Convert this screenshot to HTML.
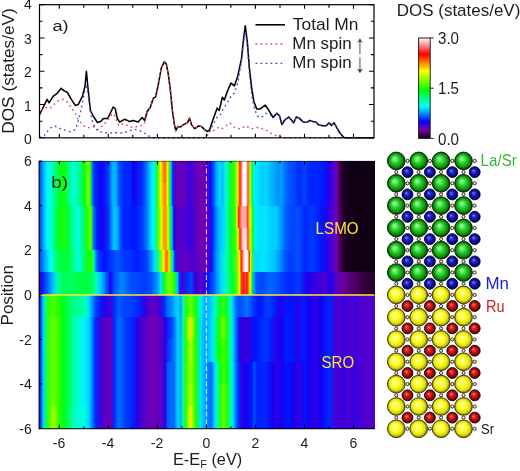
<!DOCTYPE html>
<html lang="en">
<head>
<meta charset="utf-8">
<title>DOS of LSMO/SRO interface</title>
<style>
html,body{margin:0;padding:0;background:#fff;}
body{width:520px;height:471px;overflow:hidden;font-family:"Liberation Sans", sans-serif;}
svg{display:block;}
</style>
</head>
<body>
<svg width="520" height="471" viewBox="0 0 520 471" font-family='"Liberation Sans", sans-serif' fill="#1c1c1c">
<defs>
<linearGradient id="hg0" gradientUnits="userSpaceOnUse" x1="39.0" y1="0" x2="374.5" y2="0"><stop offset="0.0015" stop-color="#0046ff"/><stop offset="0.0066" stop-color="#0072ff"/><stop offset="0.0143" stop-color="#00b9ff"/><stop offset="0.0238" stop-color="#00f5ff"/><stop offset="0.0343" stop-color="#00ffe1"/><stop offset="0.0441" stop-color="#00ff96"/><stop offset="0.0581" stop-color="#00ff3d"/><stop offset="0.0736" stop-color="#14ff00"/><stop offset="0.0891" stop-color="#00ff78"/><stop offset="0.1019" stop-color="#00ffe6"/><stop offset="0.1148" stop-color="#00ffa9"/><stop offset="0.1276" stop-color="#00ff50"/><stop offset="0.1380" stop-color="#1eff00"/><stop offset="0.1458" stop-color="#78ff00"/><stop offset="0.1535" stop-color="#1eff00"/><stop offset="0.1586" stop-color="#0077ff"/><stop offset="0.1663" stop-color="#0027ff"/><stop offset="0.1869" stop-color="#0e00f7"/><stop offset="0.2077" stop-color="#003cff"/><stop offset="0.2161" stop-color="#0096ff"/><stop offset="0.2221" stop-color="#00b9ff"/><stop offset="0.2289" stop-color="#00b4ff"/><stop offset="0.2385" stop-color="#0050ff"/><stop offset="0.2539" stop-color="#0027ff"/><stop offset="0.2712" stop-color="#0027ff"/><stop offset="0.2832" stop-color="#1500f3"/><stop offset="0.3085" stop-color="#0031ff"/><stop offset="0.3225" stop-color="#0082ff"/><stop offset="0.3308" stop-color="#00c7ff"/><stop offset="0.3398" stop-color="#00f5ff"/><stop offset="0.3481" stop-color="#00ff8d"/><stop offset="0.3547" stop-color="#3dff00"/><stop offset="0.3627" stop-color="#f0ff00"/><stop offset="0.3705" stop-color="#ff8c00"/><stop offset="0.3765" stop-color="#ff6e00"/><stop offset="0.3833" stop-color="#fff000"/><stop offset="0.3884" stop-color="#32ff00"/><stop offset="0.3934" stop-color="#00c7ff"/><stop offset="0.3988" stop-color="#0027ff"/><stop offset="0.4066" stop-color="#5d00c2"/><stop offset="0.4271" stop-color="#6900b8"/><stop offset="0.4477" stop-color="#4100da"/><stop offset="0.4680" stop-color="#5d00c2"/><stop offset="0.4838" stop-color="#7000aa"/><stop offset="0.4948" stop-color="#6400bd"/><stop offset="0.5055" stop-color="#4f00cf"/><stop offset="0.5115" stop-color="#0014ff"/><stop offset="0.5198" stop-color="#0050ff"/><stop offset="0.5288" stop-color="#00a9ff"/><stop offset="0.5395" stop-color="#00dcff"/><stop offset="0.5469" stop-color="#00beff"/><stop offset="0.5574" stop-color="#00ffdc"/><stop offset="0.5675" stop-color="#00ff50"/><stop offset="0.5803" stop-color="#28ff00"/><stop offset="0.5893" stop-color="#a9ff00"/><stop offset="0.5943" stop-color="#ffc800"/><stop offset="0.5985" stop-color="#ff1e00"/><stop offset="0.6036" stop-color="#ff7878"/><stop offset="0.6086" stop-color="#ffffff"/><stop offset="0.6176" stop-color="#ffffff"/><stop offset="0.6224" stop-color="#ff4646"/><stop offset="0.6259" stop-color="#ff9600"/><stop offset="0.6295" stop-color="#c8ff00"/><stop offset="0.6346" stop-color="#00ff28"/><stop offset="0.6408" stop-color="#00f1ff"/><stop offset="0.6528" stop-color="#00e4ff"/><stop offset="0.6656" stop-color="#00c7ff"/><stop offset="0.6757" stop-color="#00deff"/><stop offset="0.6861" stop-color="#00c3ff"/><stop offset="0.7016" stop-color="#00a9ff"/><stop offset="0.7121" stop-color="#008dff"/><stop offset="0.7222" stop-color="#00a0ff"/><stop offset="0.7326" stop-color="#0072ff"/><stop offset="0.7452" stop-color="#0055ff"/><stop offset="0.7601" stop-color="#0046ff"/><stop offset="0.7750" stop-color="#002cff"/><stop offset="0.7920" stop-color="#0041ff"/><stop offset="0.8077" stop-color="#0024ff"/><stop offset="0.8286" stop-color="#0027ff"/><stop offset="0.8495" stop-color="#0014ff"/><stop offset="0.8644" stop-color="#2700e9"/><stop offset="0.8772" stop-color="#4a00d4"/><stop offset="0.8867" stop-color="#7300af"/><stop offset="0.8951" stop-color="#4e0064"/><stop offset="0.9037" stop-color="#23002c"/><stop offset="0.9151" stop-color="#16001b"/><stop offset="0.9329" stop-color="#110015"/><stop offset="1.0000" stop-color="#110015"/></linearGradient>
<linearGradient id="hg1" gradientUnits="userSpaceOnUse" x1="39.0" y1="0" x2="374.5" y2="0"><stop offset="0.0015" stop-color="#0046ff"/><stop offset="0.0066" stop-color="#0072ff"/><stop offset="0.0143" stop-color="#00b9ff"/><stop offset="0.0238" stop-color="#00f5ff"/><stop offset="0.0343" stop-color="#00ffe1"/><stop offset="0.0441" stop-color="#00ff96"/><stop offset="0.0581" stop-color="#00ff3d"/><stop offset="0.0736" stop-color="#14ff00"/><stop offset="0.0891" stop-color="#00ff78"/><stop offset="0.1019" stop-color="#00ffe6"/><stop offset="0.1148" stop-color="#00ffa9"/><stop offset="0.1276" stop-color="#00ff50"/><stop offset="0.1380" stop-color="#1eff00"/><stop offset="0.1458" stop-color="#78ff00"/><stop offset="0.1535" stop-color="#1eff00"/><stop offset="0.1586" stop-color="#0077ff"/><stop offset="0.1663" stop-color="#0027ff"/><stop offset="0.1869" stop-color="#0e00f7"/><stop offset="0.2077" stop-color="#003cff"/><stop offset="0.2161" stop-color="#0096ff"/><stop offset="0.2221" stop-color="#00b9ff"/><stop offset="0.2289" stop-color="#00b4ff"/><stop offset="0.2385" stop-color="#0050ff"/><stop offset="0.2539" stop-color="#0027ff"/><stop offset="0.2712" stop-color="#0027ff"/><stop offset="0.2832" stop-color="#1500f3"/><stop offset="0.3085" stop-color="#0031ff"/><stop offset="0.3225" stop-color="#0082ff"/><stop offset="0.3308" stop-color="#00c7ff"/><stop offset="0.3398" stop-color="#00f5ff"/><stop offset="0.3481" stop-color="#00ff8d"/><stop offset="0.3547" stop-color="#3dff00"/><stop offset="0.3627" stop-color="#f0ff00"/><stop offset="0.3705" stop-color="#ffa500"/><stop offset="0.3765" stop-color="#ff8700"/><stop offset="0.3833" stop-color="#fff000"/><stop offset="0.3884" stop-color="#32ff00"/><stop offset="0.3934" stop-color="#00c7ff"/><stop offset="0.3988" stop-color="#0027ff"/><stop offset="0.4066" stop-color="#5d00c2"/><stop offset="0.4271" stop-color="#6900b8"/><stop offset="0.4477" stop-color="#4100da"/><stop offset="0.4680" stop-color="#5d00c2"/><stop offset="0.4838" stop-color="#7000aa"/><stop offset="0.4948" stop-color="#6400bd"/><stop offset="0.5055" stop-color="#4f00cf"/><stop offset="0.5115" stop-color="#0014ff"/><stop offset="0.5198" stop-color="#0050ff"/><stop offset="0.5288" stop-color="#00a9ff"/><stop offset="0.5395" stop-color="#00dcff"/><stop offset="0.5469" stop-color="#00beff"/><stop offset="0.5574" stop-color="#00ffdc"/><stop offset="0.5675" stop-color="#00ff50"/><stop offset="0.5803" stop-color="#28ff00"/><stop offset="0.5893" stop-color="#a9ff00"/><stop offset="0.5943" stop-color="#ffc800"/><stop offset="0.5985" stop-color="#ff1e00"/><stop offset="0.6036" stop-color="#ff7878"/><stop offset="0.6086" stop-color="#ffffff"/><stop offset="0.6176" stop-color="#ffffff"/><stop offset="0.6224" stop-color="#ff4646"/><stop offset="0.6259" stop-color="#ff9600"/><stop offset="0.6295" stop-color="#c8ff00"/><stop offset="0.6346" stop-color="#00ff28"/><stop offset="0.6408" stop-color="#00f1ff"/><stop offset="0.6528" stop-color="#00e4ff"/><stop offset="0.6656" stop-color="#00c7ff"/><stop offset="0.6757" stop-color="#00deff"/><stop offset="0.6861" stop-color="#00c3ff"/><stop offset="0.7016" stop-color="#00a9ff"/><stop offset="0.7121" stop-color="#008dff"/><stop offset="0.7222" stop-color="#00a0ff"/><stop offset="0.7326" stop-color="#0072ff"/><stop offset="0.7452" stop-color="#0055ff"/><stop offset="0.7601" stop-color="#0046ff"/><stop offset="0.7750" stop-color="#002cff"/><stop offset="0.7920" stop-color="#0041ff"/><stop offset="0.8077" stop-color="#0024ff"/><stop offset="0.8286" stop-color="#0027ff"/><stop offset="0.8495" stop-color="#0014ff"/><stop offset="0.8644" stop-color="#2700e9"/><stop offset="0.8772" stop-color="#4a00d4"/><stop offset="0.8867" stop-color="#7300af"/><stop offset="0.8951" stop-color="#4e0064"/><stop offset="0.9037" stop-color="#23002c"/><stop offset="0.9151" stop-color="#16001b"/><stop offset="0.9329" stop-color="#110015"/><stop offset="1.0000" stop-color="#110015"/></linearGradient>
<linearGradient id="hg2" gradientUnits="userSpaceOnUse" x1="39.0" y1="0" x2="374.5" y2="0"><stop offset="0.0015" stop-color="#0046ff"/><stop offset="0.0066" stop-color="#006dff"/><stop offset="0.0143" stop-color="#00b4ff"/><stop offset="0.0238" stop-color="#00f5ff"/><stop offset="0.0343" stop-color="#00ffd7"/><stop offset="0.0441" stop-color="#00ff82"/><stop offset="0.0581" stop-color="#00ff28"/><stop offset="0.0736" stop-color="#1eff00"/><stop offset="0.0894" stop-color="#00ff46"/><stop offset="0.1013" stop-color="#00ffa0"/><stop offset="0.1174" stop-color="#00ffe6"/><stop offset="0.1303" stop-color="#00ff82"/><stop offset="0.1431" stop-color="#1eff00"/><stop offset="0.1508" stop-color="#64ff00"/><stop offset="0.1571" stop-color="#1eff00"/><stop offset="0.1621" stop-color="#0077ff"/><stop offset="0.1717" stop-color="#001fff"/><stop offset="0.1869" stop-color="#1900f1"/><stop offset="0.2077" stop-color="#0031ff"/><stop offset="0.2170" stop-color="#0096ff"/><stop offset="0.2235" stop-color="#00c3ff"/><stop offset="0.2319" stop-color="#00beff"/><stop offset="0.2438" stop-color="#0046ff"/><stop offset="0.2563" stop-color="#001fff"/><stop offset="0.2623" stop-color="#0027ff"/><stop offset="0.2832" stop-color="#0014ff"/><stop offset="0.3085" stop-color="#003cff"/><stop offset="0.3225" stop-color="#0082ff"/><stop offset="0.3308" stop-color="#00c7ff"/><stop offset="0.3404" stop-color="#00f5ff"/><stop offset="0.3487" stop-color="#00ff8d"/><stop offset="0.3559" stop-color="#4fff00"/><stop offset="0.3642" stop-color="#e6ff00"/><stop offset="0.3714" stop-color="#ffaa00"/><stop offset="0.3779" stop-color="#ff8c00"/><stop offset="0.3845" stop-color="#e6ff00"/><stop offset="0.3911" stop-color="#00ff28"/><stop offset="0.3964" stop-color="#00beff"/><stop offset="0.4024" stop-color="#1e00ee"/><stop offset="0.4113" stop-color="#5d00c2"/><stop offset="0.4322" stop-color="#4e00d0"/><stop offset="0.4531" stop-color="#3600e0"/><stop offset="0.4739" stop-color="#6900b8"/><stop offset="0.4888" stop-color="#7000aa"/><stop offset="0.4978" stop-color="#6400bd"/><stop offset="0.5073" stop-color="#4f00cf"/><stop offset="0.5133" stop-color="#0014ff"/><stop offset="0.5204" stop-color="#003cff"/><stop offset="0.5288" stop-color="#008dff"/><stop offset="0.5395" stop-color="#00c7ff"/><stop offset="0.5496" stop-color="#00dcff"/><stop offset="0.5598" stop-color="#00ffa9"/><stop offset="0.5723" stop-color="#00ff28"/><stop offset="0.5857" stop-color="#46ff00"/><stop offset="0.5887" stop-color="#b4ff00"/><stop offset="0.5914" stop-color="#ffc800"/><stop offset="0.5949" stop-color="#ff1e00"/><stop offset="0.6006" stop-color="#ff6e6e"/><stop offset="0.6060" stop-color="#ffa9a9"/><stop offset="0.6170" stop-color="#ffa9a9"/><stop offset="0.6218" stop-color="#ff3232"/><stop offset="0.6253" stop-color="#ff9600"/><stop offset="0.6283" stop-color="#ffe600"/><stop offset="0.6319" stop-color="#95ff00"/><stop offset="0.6373" stop-color="#00ff3d"/><stop offset="0.6450" stop-color="#00f1ff"/><stop offset="0.6605" stop-color="#00e1ff"/><stop offset="0.6757" stop-color="#00eaff"/><stop offset="0.6915" stop-color="#00ceff"/><stop offset="0.7064" stop-color="#00d3ff"/><stop offset="0.7195" stop-color="#00a0ff"/><stop offset="0.7326" stop-color="#006aff"/><stop offset="0.7452" stop-color="#004bff"/><stop offset="0.7601" stop-color="#0041ff"/><stop offset="0.7732" stop-color="#0050ff"/><stop offset="0.7920" stop-color="#0027ff"/><stop offset="0.8137" stop-color="#0037ff"/><stop offset="0.8399" stop-color="#001aff"/><stop offset="0.8584" stop-color="#2700e9"/><stop offset="0.8733" stop-color="#4a00d4"/><stop offset="0.8867" stop-color="#7200ad"/><stop offset="0.8972" stop-color="#4b005f"/><stop offset="0.9076" stop-color="#1e0026"/><stop offset="0.9198" stop-color="#16001b"/><stop offset="0.9359" stop-color="#110015"/><stop offset="1.0000" stop-color="#110015"/></linearGradient>
<linearGradient id="hg3" gradientUnits="userSpaceOnUse" x1="39.0" y1="0" x2="374.5" y2="0"><stop offset="0.0015" stop-color="#0046ff"/><stop offset="0.0066" stop-color="#006dff"/><stop offset="0.0143" stop-color="#00b4ff"/><stop offset="0.0238" stop-color="#00f5ff"/><stop offset="0.0343" stop-color="#00ffd7"/><stop offset="0.0441" stop-color="#00ff82"/><stop offset="0.0581" stop-color="#00ff28"/><stop offset="0.0736" stop-color="#1eff00"/><stop offset="0.0894" stop-color="#00ff46"/><stop offset="0.1013" stop-color="#00ffa0"/><stop offset="0.1174" stop-color="#00ffe6"/><stop offset="0.1303" stop-color="#00ff82"/><stop offset="0.1431" stop-color="#1eff00"/><stop offset="0.1508" stop-color="#64ff00"/><stop offset="0.1571" stop-color="#1eff00"/><stop offset="0.1621" stop-color="#0077ff"/><stop offset="0.1717" stop-color="#001fff"/><stop offset="0.1869" stop-color="#1900f1"/><stop offset="0.2077" stop-color="#0031ff"/><stop offset="0.2170" stop-color="#0096ff"/><stop offset="0.2235" stop-color="#00c3ff"/><stop offset="0.2319" stop-color="#00beff"/><stop offset="0.2438" stop-color="#0046ff"/><stop offset="0.2563" stop-color="#001fff"/><stop offset="0.2623" stop-color="#0027ff"/><stop offset="0.2832" stop-color="#0014ff"/><stop offset="0.3085" stop-color="#003cff"/><stop offset="0.3225" stop-color="#0082ff"/><stop offset="0.3308" stop-color="#00c7ff"/><stop offset="0.3404" stop-color="#00f5ff"/><stop offset="0.3487" stop-color="#00ff8d"/><stop offset="0.3559" stop-color="#4fff00"/><stop offset="0.3642" stop-color="#e6ff00"/><stop offset="0.3714" stop-color="#ffaa00"/><stop offset="0.3779" stop-color="#ff8c00"/><stop offset="0.3845" stop-color="#e6ff00"/><stop offset="0.3911" stop-color="#00ff28"/><stop offset="0.3964" stop-color="#00beff"/><stop offset="0.4024" stop-color="#1e00ee"/><stop offset="0.4113" stop-color="#5d00c2"/><stop offset="0.4322" stop-color="#4e00d0"/><stop offset="0.4531" stop-color="#3600e0"/><stop offset="0.4739" stop-color="#6900b8"/><stop offset="0.4888" stop-color="#7000aa"/><stop offset="0.4978" stop-color="#6400bd"/><stop offset="0.5073" stop-color="#4f00cf"/><stop offset="0.5133" stop-color="#0014ff"/><stop offset="0.5204" stop-color="#003cff"/><stop offset="0.5288" stop-color="#008dff"/><stop offset="0.5395" stop-color="#00c7ff"/><stop offset="0.5496" stop-color="#00dcff"/><stop offset="0.5598" stop-color="#00ffa9"/><stop offset="0.5723" stop-color="#00ff28"/><stop offset="0.5857" stop-color="#46ff00"/><stop offset="0.5920" stop-color="#b4ff00"/><stop offset="0.5949" stop-color="#ffc800"/><stop offset="0.5985" stop-color="#ff1e00"/><stop offset="0.6033" stop-color="#ff6e6e"/><stop offset="0.6080" stop-color="#ffdcdc"/><stop offset="0.6179" stop-color="#ffdcdc"/><stop offset="0.6224" stop-color="#ff3232"/><stop offset="0.6259" stop-color="#ff9600"/><stop offset="0.6289" stop-color="#ffe600"/><stop offset="0.6319" stop-color="#95ff00"/><stop offset="0.6373" stop-color="#00ff3d"/><stop offset="0.6450" stop-color="#00f1ff"/><stop offset="0.6605" stop-color="#00e1ff"/><stop offset="0.6757" stop-color="#00eaff"/><stop offset="0.6915" stop-color="#00ceff"/><stop offset="0.7064" stop-color="#00d3ff"/><stop offset="0.7195" stop-color="#00a0ff"/><stop offset="0.7326" stop-color="#006aff"/><stop offset="0.7452" stop-color="#004bff"/><stop offset="0.7601" stop-color="#0041ff"/><stop offset="0.7732" stop-color="#0050ff"/><stop offset="0.7920" stop-color="#0027ff"/><stop offset="0.8137" stop-color="#0037ff"/><stop offset="0.8399" stop-color="#001aff"/><stop offset="0.8584" stop-color="#2700e9"/><stop offset="0.8733" stop-color="#4a00d4"/><stop offset="0.8867" stop-color="#7200ad"/><stop offset="0.8972" stop-color="#4b005f"/><stop offset="0.9076" stop-color="#1e0026"/><stop offset="0.9198" stop-color="#16001b"/><stop offset="0.9359" stop-color="#110015"/><stop offset="1.0000" stop-color="#110015"/></linearGradient>
<linearGradient id="hg4" gradientUnits="userSpaceOnUse" x1="39.0" y1="0" x2="374.5" y2="0"><stop offset="0.0015" stop-color="#0046ff"/><stop offset="0.0066" stop-color="#0065ff"/><stop offset="0.0167" stop-color="#00a0ff"/><stop offset="0.0268" stop-color="#00dcff"/><stop offset="0.0358" stop-color="#00fff1"/><stop offset="0.0447" stop-color="#00ffa9"/><stop offset="0.0581" stop-color="#00ff50"/><stop offset="0.0736" stop-color="#00ff32"/><stop offset="0.0891" stop-color="#00ff46"/><stop offset="0.1043" stop-color="#00ff96"/><stop offset="0.1174" stop-color="#00ffdc"/><stop offset="0.1303" stop-color="#00ff8d"/><stop offset="0.1458" stop-color="#14ff00"/><stop offset="0.1550" stop-color="#28ff00"/><stop offset="0.1639" stop-color="#00ff96"/><stop offset="0.1690" stop-color="#008dff"/><stop offset="0.1788" stop-color="#0031ff"/><stop offset="0.1967" stop-color="#0014ff"/><stop offset="0.2176" stop-color="#003cff"/><stop offset="0.2334" stop-color="#005aff"/><stop offset="0.2489" stop-color="#003cff"/><stop offset="0.2712" stop-color="#0031ff"/><stop offset="0.2930" stop-color="#001fff"/><stop offset="0.3189" stop-color="#003cff"/><stop offset="0.3338" stop-color="#008dff"/><stop offset="0.3446" stop-color="#00dcff"/><stop offset="0.3547" stop-color="#00ff96"/><stop offset="0.3642" stop-color="#78ff00"/><stop offset="0.3714" stop-color="#fff000"/><stop offset="0.3765" stop-color="#ff9600"/><stop offset="0.3815" stop-color="#ff6300"/><stop offset="0.3875" stop-color="#ffe600"/><stop offset="0.3934" stop-color="#3dff00"/><stop offset="0.3988" stop-color="#00d3ff"/><stop offset="0.4054" stop-color="#0027ff"/><stop offset="0.4143" stop-color="#5d00c2"/><stop offset="0.4373" stop-color="#5d00c2"/><stop offset="0.4581" stop-color="#4b00d2"/><stop offset="0.4787" stop-color="#6900b8"/><stop offset="0.4948" stop-color="#6400bd"/><stop offset="0.5073" stop-color="#4f00cf"/><stop offset="0.5133" stop-color="#0014ff"/><stop offset="0.5198" stop-color="#0046ff"/><stop offset="0.5288" stop-color="#0096ff"/><stop offset="0.5419" stop-color="#00d3ff"/><stop offset="0.5574" stop-color="#00ffbe"/><stop offset="0.5723" stop-color="#00ff3d"/><stop offset="0.5881" stop-color="#4fff00"/><stop offset="0.5973" stop-color="#fff000"/><stop offset="0.6027" stop-color="#ff1e00"/><stop offset="0.6089" stop-color="#ff9696"/><stop offset="0.6149" stop-color="#ffffff"/><stop offset="0.6218" stop-color="#fff1f1"/><stop offset="0.6268" stop-color="#ff1e00"/><stop offset="0.6310" stop-color="#e6ff00"/><stop offset="0.6355" stop-color="#32ff00"/><stop offset="0.6423" stop-color="#00e1ff"/><stop offset="0.6551" stop-color="#00dcff"/><stop offset="0.6706" stop-color="#00e6ff"/><stop offset="0.6861" stop-color="#00d3ff"/><stop offset="0.7016" stop-color="#00c7ff"/><stop offset="0.7171" stop-color="#0096ff"/><stop offset="0.7326" stop-color="#005aff"/><stop offset="0.7452" stop-color="#003cff"/><stop offset="0.7601" stop-color="#0041ff"/><stop offset="0.7732" stop-color="#0050ff"/><stop offset="0.7920" stop-color="#0027ff"/><stop offset="0.8137" stop-color="#0037ff"/><stop offset="0.8399" stop-color="#001aff"/><stop offset="0.8584" stop-color="#2700e9"/><stop offset="0.8733" stop-color="#4a00d4"/><stop offset="0.8867" stop-color="#7200ad"/><stop offset="0.8972" stop-color="#4b005f"/><stop offset="0.9076" stop-color="#1e0026"/><stop offset="0.9198" stop-color="#16001b"/><stop offset="0.9359" stop-color="#110015"/><stop offset="1.0000" stop-color="#110015"/></linearGradient>
<linearGradient id="hg5" gradientUnits="userSpaceOnUse" x1="39.0" y1="0" x2="374.5" y2="0"><stop offset="0.0015" stop-color="#5e0084"/><stop offset="0.0060" stop-color="#2700e9"/><stop offset="0.0119" stop-color="#0027ff"/><stop offset="0.0268" stop-color="#006dff"/><stop offset="0.0426" stop-color="#00c7ff"/><stop offset="0.0554" stop-color="#00ffa9"/><stop offset="0.0736" stop-color="#00ff50"/><stop offset="0.0942" stop-color="#00ff63"/><stop offset="0.1148" stop-color="#00ff46"/><stop offset="0.1353" stop-color="#00ff3d"/><stop offset="0.1562" stop-color="#00ff5a"/><stop offset="0.1690" stop-color="#00ffa9"/><stop offset="0.1788" stop-color="#00dcff"/><stop offset="0.1896" stop-color="#00a9ff"/><stop offset="0.2027" stop-color="#0050ff"/><stop offset="0.2128" stop-color="#1e00ee"/><stop offset="0.2232" stop-color="#0046ff"/><stop offset="0.2385" stop-color="#0077ff"/><stop offset="0.2474" stop-color="#0086ff"/><stop offset="0.2593" stop-color="#006dff"/><stop offset="0.2724" stop-color="#0050ff"/><stop offset="0.2930" stop-color="#0046ff"/><stop offset="0.3136" stop-color="#003cff"/><stop offset="0.3338" stop-color="#0050ff"/><stop offset="0.3523" stop-color="#0096ff"/><stop offset="0.3627" stop-color="#00e6ff"/><stop offset="0.3726" stop-color="#00ff28"/><stop offset="0.3857" stop-color="#81ff00"/><stop offset="0.3988" stop-color="#46ff00"/><stop offset="0.4066" stop-color="#00ff28"/><stop offset="0.4125" stop-color="#00c7ff"/><stop offset="0.4194" stop-color="#0027ff"/><stop offset="0.4271" stop-color="#4e00d0"/><stop offset="0.4426" stop-color="#0031ff"/><stop offset="0.4531" stop-color="#0046ff"/><stop offset="0.4659" stop-color="#3400e1"/><stop offset="0.4811" stop-color="#5d00c2"/><stop offset="0.4942" stop-color="#2c00e6"/><stop offset="0.5082" stop-color="#0027ff"/><stop offset="0.5210" stop-color="#005aff"/><stop offset="0.5314" stop-color="#00a0ff"/><stop offset="0.5443" stop-color="#00dcff"/><stop offset="0.5598" stop-color="#00ffb4"/><stop offset="0.5753" stop-color="#00ff3d"/><stop offset="0.5881" stop-color="#3dff00"/><stop offset="0.5973" stop-color="#dcff00"/><stop offset="0.6027" stop-color="#ff5000"/><stop offset="0.6089" stop-color="#ff1313"/><stop offset="0.6149" stop-color="#ff4646"/><stop offset="0.6200" stop-color="#ff1400"/><stop offset="0.6253" stop-color="#ff8c00"/><stop offset="0.6295" stop-color="#e6ff00"/><stop offset="0.6346" stop-color="#00ff28"/><stop offset="0.6408" stop-color="#0096ff"/><stop offset="0.6498" stop-color="#0050ff"/><stop offset="0.6656" stop-color="#0046ff"/><stop offset="0.6861" stop-color="#0065ff"/><stop offset="0.7064" stop-color="#005aff"/><stop offset="0.7273" stop-color="#003cff"/><stop offset="0.7452" stop-color="#0027ff"/><stop offset="0.7541" stop-color="#0027ff"/><stop offset="0.7732" stop-color="#003cff"/><stop offset="0.7973" stop-color="#2000ed"/><stop offset="0.8238" stop-color="#3400e1"/><stop offset="0.8507" stop-color="#4b00d2"/><stop offset="0.8718" stop-color="#2000ed"/><stop offset="0.8882" stop-color="#6200be"/><stop offset="0.9031" stop-color="#6c00a1"/><stop offset="0.9252" stop-color="#58007a"/><stop offset="0.9466" stop-color="#49005d"/><stop offset="0.9678" stop-color="#32003f"/><stop offset="1.0000" stop-color="#23002c"/></linearGradient>
<linearGradient id="hg6" gradientUnits="userSpaceOnUse" x1="39.0" y1="0" x2="374.5" y2="0"><stop offset="0.0015" stop-color="#001fff"/><stop offset="0.0054" stop-color="#003cff"/><stop offset="0.0119" stop-color="#00c7ff"/><stop offset="0.0194" stop-color="#00ff78"/><stop offset="0.0298" stop-color="#32ff00"/><stop offset="0.0426" stop-color="#4fff00"/><stop offset="0.0581" stop-color="#1eff00"/><stop offset="0.0736" stop-color="#00ff1e"/><stop offset="0.0894" stop-color="#00ff5a"/><stop offset="0.1043" stop-color="#00ff8d"/><stop offset="0.1201" stop-color="#00ff96"/><stop offset="0.1353" stop-color="#00ffa9"/><stop offset="0.1484" stop-color="#00e1ff"/><stop offset="0.1586" stop-color="#0096ff"/><stop offset="0.1690" stop-color="#0046ff"/><stop offset="0.1818" stop-color="#001fff"/><stop offset="0.1973" stop-color="#2c00e6"/><stop offset="0.2128" stop-color="#4200d9"/><stop offset="0.2256" stop-color="#0031ff"/><stop offset="0.2385" stop-color="#005aff"/><stop offset="0.2539" stop-color="#0046ff"/><stop offset="0.2772" stop-color="#003cff"/><stop offset="0.2981" stop-color="#0027ff"/><stop offset="0.3136" stop-color="#2c00e6"/><stop offset="0.3317" stop-color="#5500c9"/><stop offset="0.3446" stop-color="#6000c0"/><stop offset="0.3601" stop-color="#4200d9"/><stop offset="0.3726" stop-color="#0027ff"/><stop offset="0.3833" stop-color="#006dff"/><stop offset="0.3964" stop-color="#008dff"/><stop offset="0.4066" stop-color="#00beff"/><stop offset="0.4143" stop-color="#00d7ff"/><stop offset="0.4221" stop-color="#0096ff"/><stop offset="0.4292" stop-color="#00ffa9"/><stop offset="0.4399" stop-color="#28ff00"/><stop offset="0.4501" stop-color="#6eff00"/><stop offset="0.4605" stop-color="#32ff00"/><stop offset="0.4709" stop-color="#00ff3d"/><stop offset="0.4799" stop-color="#00ffbe"/><stop offset="0.4864" stop-color="#00d3ff"/><stop offset="0.4918" stop-color="#00beff"/><stop offset="0.4993" stop-color="#00b0ff"/><stop offset="0.5058" stop-color="#00beff"/><stop offset="0.5156" stop-color="#00d7ff"/><stop offset="0.5264" stop-color="#00ffa9"/><stop offset="0.5365" stop-color="#00ff46"/><stop offset="0.5496" stop-color="#32ff00"/><stop offset="0.5598" stop-color="#00ff32"/><stop offset="0.5702" stop-color="#00ffbe"/><stop offset="0.5779" stop-color="#00c7ff"/><stop offset="0.5857" stop-color="#0077ff"/><stop offset="0.5961" stop-color="#0050ff"/><stop offset="0.6089" stop-color="#005aff"/><stop offset="0.6191" stop-color="#0077ff"/><stop offset="0.6295" stop-color="#005aff"/><stop offset="0.6450" stop-color="#0024ff"/><stop offset="0.6605" stop-color="#0014ff"/><stop offset="0.6757" stop-color="#0037ff"/><stop offset="0.6861" stop-color="#003cff"/><stop offset="0.7016" stop-color="#001fff"/><stop offset="0.7222" stop-color="#2300eb"/><stop offset="0.7377" stop-color="#0014ff"/><stop offset="0.7601" stop-color="#0014ff"/><stop offset="0.7705" stop-color="#2d00e5"/><stop offset="0.7869" stop-color="#001aff"/><stop offset="0.8077" stop-color="#1500f3"/><stop offset="0.8238" stop-color="#3300e2"/><stop offset="0.8399" stop-color="#1000f6"/><stop offset="0.8665" stop-color="#0026ff"/><stop offset="0.8823" stop-color="#3f00db"/><stop offset="0.8933" stop-color="#5000ce"/><stop offset="0.9145" stop-color="#3300e2"/><stop offset="0.9300" stop-color="#5000ce"/><stop offset="0.9466" stop-color="#3f00db"/><stop offset="0.9678" stop-color="#5500c9"/><stop offset="1.0000" stop-color="#4c00d1"/></linearGradient>
<linearGradient id="hg7" gradientUnits="userSpaceOnUse" x1="39.0" y1="0" x2="374.5" y2="0"><stop offset="0.0015" stop-color="#001fff"/><stop offset="0.0054" stop-color="#003cff"/><stop offset="0.0119" stop-color="#00c7ff"/><stop offset="0.0194" stop-color="#00ff78"/><stop offset="0.0298" stop-color="#3dff00"/><stop offset="0.0426" stop-color="#6eff00"/><stop offset="0.0581" stop-color="#32ff00"/><stop offset="0.0736" stop-color="#00ff15"/><stop offset="0.0894" stop-color="#00ff5a"/><stop offset="0.1019" stop-color="#00ffa5"/><stop offset="0.1174" stop-color="#00ffd7"/><stop offset="0.1353" stop-color="#00eeff"/><stop offset="0.1484" stop-color="#00d7ff"/><stop offset="0.1586" stop-color="#0082ff"/><stop offset="0.1690" stop-color="#0027ff"/><stop offset="0.1848" stop-color="#4200d9"/><stop offset="0.1973" stop-color="#5800c7"/><stop offset="0.2128" stop-color="#6a00b7"/><stop offset="0.2241" stop-color="#0027ff"/><stop offset="0.2361" stop-color="#006dff"/><stop offset="0.2489" stop-color="#005aff"/><stop offset="0.2563" stop-color="#003cff"/><stop offset="0.2772" stop-color="#0027ff"/><stop offset="0.2930" stop-color="#2c00e6"/><stop offset="0.3112" stop-color="#5500c9"/><stop offset="0.3317" stop-color="#6a00b7"/><stop offset="0.3496" stop-color="#6a00b7"/><stop offset="0.3651" stop-color="#5500c9"/><stop offset="0.3765" stop-color="#2c00e6"/><stop offset="0.3884" stop-color="#0031ff"/><stop offset="0.3988" stop-color="#0050ff"/><stop offset="0.4066" stop-color="#0096ff"/><stop offset="0.4143" stop-color="#00dcff"/><stop offset="0.4221" stop-color="#00a9ff"/><stop offset="0.4292" stop-color="#00ffa9"/><stop offset="0.4373" stop-color="#28ff00"/><stop offset="0.4450" stop-color="#95ff00"/><stop offset="0.4519" stop-color="#ffdd00"/><stop offset="0.4581" stop-color="#95ff00"/><stop offset="0.4659" stop-color="#28ff00"/><stop offset="0.4736" stop-color="#00ff50"/><stop offset="0.4811" stop-color="#00e1ff"/><stop offset="0.4879" stop-color="#00c3ff"/><stop offset="0.4930" stop-color="#00b4ff"/><stop offset="0.4993" stop-color="#00b0ff"/><stop offset="0.5058" stop-color="#00beff"/><stop offset="0.5156" stop-color="#00e1ff"/><stop offset="0.5264" stop-color="#00ff96"/><stop offset="0.5365" stop-color="#14ff00"/><stop offset="0.5496" stop-color="#78ff00"/><stop offset="0.5598" stop-color="#1eff00"/><stop offset="0.5702" stop-color="#00ffa9"/><stop offset="0.5779" stop-color="#00d3ff"/><stop offset="0.5857" stop-color="#0082ff"/><stop offset="0.5923" stop-color="#003cff"/><stop offset="0.5985" stop-color="#2c00e6"/><stop offset="0.6140" stop-color="#3600e0"/><stop offset="0.6295" stop-color="#3400e1"/><stop offset="0.6396" stop-color="#0014ff"/><stop offset="0.6551" stop-color="#001fff"/><stop offset="0.6757" stop-color="#0037ff"/><stop offset="0.6915" stop-color="#001fff"/><stop offset="0.7064" stop-color="#2d00e5"/><stop offset="0.7222" stop-color="#1500f3"/><stop offset="0.7377" stop-color="#001fff"/><stop offset="0.7601" stop-color="#0014ff"/><stop offset="0.7705" stop-color="#2d00e5"/><stop offset="0.7869" stop-color="#001aff"/><stop offset="0.8077" stop-color="#1500f3"/><stop offset="0.8238" stop-color="#3300e2"/><stop offset="0.8399" stop-color="#1000f6"/><stop offset="0.8665" stop-color="#0026ff"/><stop offset="0.8823" stop-color="#3f00db"/><stop offset="0.8933" stop-color="#5000ce"/><stop offset="0.9145" stop-color="#3300e2"/><stop offset="0.9300" stop-color="#5000ce"/><stop offset="0.9466" stop-color="#3f00db"/><stop offset="0.9678" stop-color="#5500c9"/><stop offset="1.0000" stop-color="#4c00d1"/></linearGradient>
<linearGradient id="hg8" gradientUnits="userSpaceOnUse" x1="39.0" y1="0" x2="374.5" y2="0"><stop offset="0.0015" stop-color="#001fff"/><stop offset="0.0054" stop-color="#003cff"/><stop offset="0.0119" stop-color="#00c7ff"/><stop offset="0.0194" stop-color="#00ff78"/><stop offset="0.0298" stop-color="#3dff00"/><stop offset="0.0426" stop-color="#6eff00"/><stop offset="0.0581" stop-color="#32ff00"/><stop offset="0.0736" stop-color="#00ff15"/><stop offset="0.0894" stop-color="#00ff5a"/><stop offset="0.1019" stop-color="#00ffa5"/><stop offset="0.1174" stop-color="#00ffd7"/><stop offset="0.1353" stop-color="#00eeff"/><stop offset="0.1484" stop-color="#00d7ff"/><stop offset="0.1586" stop-color="#0082ff"/><stop offset="0.1690" stop-color="#0027ff"/><stop offset="0.1848" stop-color="#4200d9"/><stop offset="0.1973" stop-color="#5800c7"/><stop offset="0.2128" stop-color="#6a00b7"/><stop offset="0.2241" stop-color="#0027ff"/><stop offset="0.2361" stop-color="#006dff"/><stop offset="0.2489" stop-color="#005aff"/><stop offset="0.2563" stop-color="#003cff"/><stop offset="0.2772" stop-color="#0027ff"/><stop offset="0.2930" stop-color="#2c00e6"/><stop offset="0.3112" stop-color="#5500c9"/><stop offset="0.3317" stop-color="#6a00b7"/><stop offset="0.3496" stop-color="#6a00b7"/><stop offset="0.3651" stop-color="#5500c9"/><stop offset="0.3765" stop-color="#2c00e6"/><stop offset="0.3884" stop-color="#0046ff"/><stop offset="0.3988" stop-color="#0060ff"/><stop offset="0.4066" stop-color="#0096ff"/><stop offset="0.4143" stop-color="#00dcff"/><stop offset="0.4221" stop-color="#00a9ff"/><stop offset="0.4292" stop-color="#00ffa9"/><stop offset="0.4373" stop-color="#28ff00"/><stop offset="0.4450" stop-color="#6eff00"/><stop offset="0.4519" stop-color="#b4ff00"/><stop offset="0.4581" stop-color="#6eff00"/><stop offset="0.4659" stop-color="#28ff00"/><stop offset="0.4736" stop-color="#00ff50"/><stop offset="0.4811" stop-color="#00e1ff"/><stop offset="0.4879" stop-color="#00c3ff"/><stop offset="0.4930" stop-color="#00b4ff"/><stop offset="0.4993" stop-color="#00b0ff"/><stop offset="0.5058" stop-color="#00beff"/><stop offset="0.5156" stop-color="#00e1ff"/><stop offset="0.5264" stop-color="#00ff96"/><stop offset="0.5365" stop-color="#14ff00"/><stop offset="0.5496" stop-color="#3dff00"/><stop offset="0.5598" stop-color="#1eff00"/><stop offset="0.5702" stop-color="#00ffa9"/><stop offset="0.5779" stop-color="#00d3ff"/><stop offset="0.5857" stop-color="#0082ff"/><stop offset="0.5923" stop-color="#003cff"/><stop offset="0.5985" stop-color="#2c00e6"/><stop offset="0.6140" stop-color="#3600e0"/><stop offset="0.6295" stop-color="#3400e1"/><stop offset="0.6396" stop-color="#0014ff"/><stop offset="0.6551" stop-color="#001fff"/><stop offset="0.6757" stop-color="#0037ff"/><stop offset="0.6915" stop-color="#001fff"/><stop offset="0.7064" stop-color="#2d00e5"/><stop offset="0.7222" stop-color="#1500f3"/><stop offset="0.7377" stop-color="#001fff"/><stop offset="0.7601" stop-color="#0014ff"/><stop offset="0.7705" stop-color="#2d00e5"/><stop offset="0.7869" stop-color="#001aff"/><stop offset="0.8077" stop-color="#1500f3"/><stop offset="0.8238" stop-color="#3300e2"/><stop offset="0.8399" stop-color="#1000f6"/><stop offset="0.8665" stop-color="#0026ff"/><stop offset="0.8823" stop-color="#3f00db"/><stop offset="0.8933" stop-color="#5000ce"/><stop offset="0.9145" stop-color="#3300e2"/><stop offset="0.9300" stop-color="#5000ce"/><stop offset="0.9466" stop-color="#3f00db"/><stop offset="0.9678" stop-color="#5500c9"/><stop offset="1.0000" stop-color="#4c00d1"/></linearGradient>
<linearGradient id="hg9" gradientUnits="userSpaceOnUse" x1="39.0" y1="0" x2="374.5" y2="0"><stop offset="0.0015" stop-color="#001fff"/><stop offset="0.0054" stop-color="#003cff"/><stop offset="0.0119" stop-color="#00c7ff"/><stop offset="0.0194" stop-color="#00ff78"/><stop offset="0.0298" stop-color="#3dff00"/><stop offset="0.0426" stop-color="#6eff00"/><stop offset="0.0581" stop-color="#32ff00"/><stop offset="0.0736" stop-color="#00ff15"/><stop offset="0.0894" stop-color="#00ff5a"/><stop offset="0.1019" stop-color="#00ffa5"/><stop offset="0.1174" stop-color="#00ffd7"/><stop offset="0.1353" stop-color="#00eeff"/><stop offset="0.1484" stop-color="#00d7ff"/><stop offset="0.1586" stop-color="#0082ff"/><stop offset="0.1690" stop-color="#0027ff"/><stop offset="0.1848" stop-color="#4200d9"/><stop offset="0.1973" stop-color="#5800c7"/><stop offset="0.2128" stop-color="#6a00b7"/><stop offset="0.2241" stop-color="#0027ff"/><stop offset="0.2361" stop-color="#006dff"/><stop offset="0.2489" stop-color="#005aff"/><stop offset="0.2563" stop-color="#003cff"/><stop offset="0.2772" stop-color="#0027ff"/><stop offset="0.2930" stop-color="#2c00e6"/><stop offset="0.3112" stop-color="#5500c9"/><stop offset="0.3317" stop-color="#6a00b7"/><stop offset="0.3496" stop-color="#6a00b7"/><stop offset="0.3651" stop-color="#5500c9"/><stop offset="0.3765" stop-color="#2c00e6"/><stop offset="0.3833" stop-color="#005aff"/><stop offset="0.3934" stop-color="#006dff"/><stop offset="0.4024" stop-color="#005aff"/><stop offset="0.4066" stop-color="#0096ff"/><stop offset="0.4143" stop-color="#00dcff"/><stop offset="0.4221" stop-color="#00a9ff"/><stop offset="0.4292" stop-color="#00ffa9"/><stop offset="0.4373" stop-color="#28ff00"/><stop offset="0.4450" stop-color="#6eff00"/><stop offset="0.4519" stop-color="#95ff00"/><stop offset="0.4581" stop-color="#6eff00"/><stop offset="0.4659" stop-color="#28ff00"/><stop offset="0.4736" stop-color="#00ff50"/><stop offset="0.4811" stop-color="#00e1ff"/><stop offset="0.4879" stop-color="#00c3ff"/><stop offset="0.4930" stop-color="#00b4ff"/><stop offset="0.4993" stop-color="#0096ff"/><stop offset="0.5058" stop-color="#0082ff"/><stop offset="0.5133" stop-color="#0065ff"/><stop offset="0.5237" stop-color="#00dcff"/><stop offset="0.5314" stop-color="#00ffa9"/><stop offset="0.5419" stop-color="#14ff00"/><stop offset="0.5520" stop-color="#3dff00"/><stop offset="0.5624" stop-color="#00ff28"/><stop offset="0.5717" stop-color="#00ffa9"/><stop offset="0.5788" stop-color="#00d7ff"/><stop offset="0.5857" stop-color="#0082ff"/><stop offset="0.5931" stop-color="#003cff"/><stop offset="0.6036" stop-color="#2a00e7"/><stop offset="0.6191" stop-color="#1500f3"/><stop offset="0.6349" stop-color="#001fff"/><stop offset="0.6423" stop-color="#0050ff"/><stop offset="0.6498" stop-color="#001fff"/><stop offset="0.6757" stop-color="#0024ff"/><stop offset="0.6966" stop-color="#1500f3"/><stop offset="0.7094" stop-color="#2d00e5"/><stop offset="0.7222" stop-color="#1500f3"/><stop offset="0.7422" stop-color="#0014ff"/><stop offset="0.7601" stop-color="#1500f3"/><stop offset="0.7732" stop-color="#3800df"/><stop offset="0.7920" stop-color="#0014ff"/><stop offset="0.8077" stop-color="#1500f3"/><stop offset="0.8238" stop-color="#3300e2"/><stop offset="0.8399" stop-color="#1000f6"/><stop offset="0.8665" stop-color="#0026ff"/><stop offset="0.8852" stop-color="#5000ce"/><stop offset="0.9037" stop-color="#3300e2"/><stop offset="0.9198" stop-color="#4c00d1"/><stop offset="0.9386" stop-color="#3800df"/><stop offset="0.9568" stop-color="#3f00db"/><stop offset="0.9732" stop-color="#5500c9"/><stop offset="1.0000" stop-color="#4c00d1"/></linearGradient>
<linearGradient id="hg10" gradientUnits="userSpaceOnUse" x1="39.0" y1="0" x2="374.5" y2="0"><stop offset="0.0015" stop-color="#001fff"/><stop offset="0.0054" stop-color="#003cff"/><stop offset="0.0119" stop-color="#00c7ff"/><stop offset="0.0194" stop-color="#00ff78"/><stop offset="0.0298" stop-color="#3dff00"/><stop offset="0.0426" stop-color="#6eff00"/><stop offset="0.0581" stop-color="#32ff00"/><stop offset="0.0736" stop-color="#00ff15"/><stop offset="0.0894" stop-color="#00ff5a"/><stop offset="0.1019" stop-color="#00ffa5"/><stop offset="0.1174" stop-color="#00ffd7"/><stop offset="0.1353" stop-color="#00eeff"/><stop offset="0.1484" stop-color="#00d7ff"/><stop offset="0.1586" stop-color="#0082ff"/><stop offset="0.1690" stop-color="#0027ff"/><stop offset="0.1848" stop-color="#4200d9"/><stop offset="0.1973" stop-color="#5800c7"/><stop offset="0.2128" stop-color="#6a00b7"/><stop offset="0.2241" stop-color="#0027ff"/><stop offset="0.2361" stop-color="#006dff"/><stop offset="0.2489" stop-color="#005aff"/><stop offset="0.2563" stop-color="#003cff"/><stop offset="0.2772" stop-color="#0027ff"/><stop offset="0.2930" stop-color="#2c00e6"/><stop offset="0.3112" stop-color="#5500c9"/><stop offset="0.3317" stop-color="#6a00b7"/><stop offset="0.3496" stop-color="#6a00b7"/><stop offset="0.3651" stop-color="#5500c9"/><stop offset="0.3765" stop-color="#2c00e6"/><stop offset="0.3833" stop-color="#005aff"/><stop offset="0.3934" stop-color="#006dff"/><stop offset="0.4024" stop-color="#005aff"/><stop offset="0.4066" stop-color="#0096ff"/><stop offset="0.4143" stop-color="#00dcff"/><stop offset="0.4221" stop-color="#00a9ff"/><stop offset="0.4292" stop-color="#00ffa9"/><stop offset="0.4373" stop-color="#28ff00"/><stop offset="0.4450" stop-color="#78ff00"/><stop offset="0.4519" stop-color="#afff00"/><stop offset="0.4581" stop-color="#78ff00"/><stop offset="0.4659" stop-color="#28ff00"/><stop offset="0.4736" stop-color="#00ff50"/><stop offset="0.4811" stop-color="#00e1ff"/><stop offset="0.4879" stop-color="#00c3ff"/><stop offset="0.4930" stop-color="#00b4ff"/><stop offset="0.4993" stop-color="#0096ff"/><stop offset="0.5058" stop-color="#0082ff"/><stop offset="0.5133" stop-color="#0065ff"/><stop offset="0.5237" stop-color="#00dcff"/><stop offset="0.5314" stop-color="#00ffa9"/><stop offset="0.5419" stop-color="#28ff00"/><stop offset="0.5505" stop-color="#6eff00"/><stop offset="0.5598" stop-color="#1eff00"/><stop offset="0.5717" stop-color="#00ffa9"/><stop offset="0.5788" stop-color="#00d7ff"/><stop offset="0.5857" stop-color="#0082ff"/><stop offset="0.5931" stop-color="#003cff"/><stop offset="0.6036" stop-color="#2a00e7"/><stop offset="0.6191" stop-color="#1500f3"/><stop offset="0.6349" stop-color="#001fff"/><stop offset="0.6423" stop-color="#0050ff"/><stop offset="0.6498" stop-color="#001fff"/><stop offset="0.6757" stop-color="#0024ff"/><stop offset="0.6966" stop-color="#1500f3"/><stop offset="0.7094" stop-color="#2d00e5"/><stop offset="0.7222" stop-color="#1500f3"/><stop offset="0.7422" stop-color="#0014ff"/><stop offset="0.7601" stop-color="#1500f3"/><stop offset="0.7732" stop-color="#3800df"/><stop offset="0.7920" stop-color="#0014ff"/><stop offset="0.8077" stop-color="#1500f3"/><stop offset="0.8238" stop-color="#3300e2"/><stop offset="0.8399" stop-color="#1000f6"/><stop offset="0.8665" stop-color="#0026ff"/><stop offset="0.8852" stop-color="#5000ce"/><stop offset="0.9037" stop-color="#3300e2"/><stop offset="0.9198" stop-color="#4c00d1"/><stop offset="0.9386" stop-color="#3800df"/><stop offset="0.9568" stop-color="#3f00db"/><stop offset="0.9732" stop-color="#5500c9"/><stop offset="1.0000" stop-color="#4c00d1"/></linearGradient>
<linearGradient id="hg11" gradientUnits="userSpaceOnUse" x1="39.0" y1="0" x2="374.5" y2="0"><stop offset="0.0015" stop-color="#001fff"/><stop offset="0.0054" stop-color="#003cff"/><stop offset="0.0119" stop-color="#00c7ff"/><stop offset="0.0194" stop-color="#00ff78"/><stop offset="0.0298" stop-color="#3dff00"/><stop offset="0.0426" stop-color="#a9ff00"/><stop offset="0.0581" stop-color="#32ff00"/><stop offset="0.0736" stop-color="#00ff15"/><stop offset="0.0894" stop-color="#00ff5a"/><stop offset="0.1019" stop-color="#00ffbe"/><stop offset="0.1174" stop-color="#00ffd7"/><stop offset="0.1353" stop-color="#00ffe1"/><stop offset="0.1484" stop-color="#00d7ff"/><stop offset="0.1586" stop-color="#0082ff"/><stop offset="0.1690" stop-color="#0027ff"/><stop offset="0.1848" stop-color="#4200d9"/><stop offset="0.1973" stop-color="#5800c7"/><stop offset="0.2128" stop-color="#6a00b7"/><stop offset="0.2241" stop-color="#0027ff"/><stop offset="0.2361" stop-color="#006dff"/><stop offset="0.2489" stop-color="#005aff"/><stop offset="0.2563" stop-color="#003cff"/><stop offset="0.2772" stop-color="#0027ff"/><stop offset="0.2930" stop-color="#2c00e6"/><stop offset="0.3112" stop-color="#5500c9"/><stop offset="0.3317" stop-color="#6a00b7"/><stop offset="0.3496" stop-color="#6a00b7"/><stop offset="0.3651" stop-color="#5500c9"/><stop offset="0.3765" stop-color="#2c00e6"/><stop offset="0.3833" stop-color="#005aff"/><stop offset="0.3934" stop-color="#006dff"/><stop offset="0.4024" stop-color="#005aff"/><stop offset="0.4066" stop-color="#0096ff"/><stop offset="0.4143" stop-color="#00dcff"/><stop offset="0.4221" stop-color="#00a9ff"/><stop offset="0.4292" stop-color="#00ffa9"/><stop offset="0.4373" stop-color="#28ff00"/><stop offset="0.4450" stop-color="#95ff00"/><stop offset="0.4519" stop-color="#ffec00"/><stop offset="0.4581" stop-color="#95ff00"/><stop offset="0.4659" stop-color="#28ff00"/><stop offset="0.4736" stop-color="#00ff50"/><stop offset="0.4811" stop-color="#00e1ff"/><stop offset="0.4879" stop-color="#00c3ff"/><stop offset="0.4930" stop-color="#00b4ff"/><stop offset="0.4993" stop-color="#0096ff"/><stop offset="0.5058" stop-color="#0082ff"/><stop offset="0.5133" stop-color="#0065ff"/><stop offset="0.5237" stop-color="#00dcff"/><stop offset="0.5314" stop-color="#00ffa9"/><stop offset="0.5419" stop-color="#28ff00"/><stop offset="0.5505" stop-color="#6eff00"/><stop offset="0.5598" stop-color="#1eff00"/><stop offset="0.5717" stop-color="#00ffa9"/><stop offset="0.5788" stop-color="#00d7ff"/><stop offset="0.5857" stop-color="#0082ff"/><stop offset="0.5931" stop-color="#003cff"/><stop offset="0.6036" stop-color="#2a00e7"/><stop offset="0.6191" stop-color="#1500f3"/><stop offset="0.6349" stop-color="#001fff"/><stop offset="0.6423" stop-color="#0050ff"/><stop offset="0.6498" stop-color="#001fff"/><stop offset="0.6757" stop-color="#0024ff"/><stop offset="0.6966" stop-color="#1500f3"/><stop offset="0.7094" stop-color="#2d00e5"/><stop offset="0.7222" stop-color="#1500f3"/><stop offset="0.7422" stop-color="#0014ff"/><stop offset="0.7601" stop-color="#1500f3"/><stop offset="0.7732" stop-color="#3800df"/><stop offset="0.7920" stop-color="#0014ff"/><stop offset="0.8077" stop-color="#1500f3"/><stop offset="0.8238" stop-color="#3300e2"/><stop offset="0.8399" stop-color="#1000f6"/><stop offset="0.8665" stop-color="#0026ff"/><stop offset="0.8852" stop-color="#5000ce"/><stop offset="0.9037" stop-color="#3300e2"/><stop offset="0.9198" stop-color="#4c00d1"/><stop offset="0.9386" stop-color="#3800df"/><stop offset="0.9568" stop-color="#3f00db"/><stop offset="0.9732" stop-color="#5500c9"/><stop offset="1.0000" stop-color="#4c00d1"/></linearGradient>
<linearGradient id="cbar" x1="0" y1="1" x2="0" y2="0">
<stop offset="0" stop-color="#000"/><stop offset="0.045" stop-color="#4b005f"/><stop offset="0.09" stop-color="#7300af"/>
<stop offset="0.125" stop-color="#4600d7"/><stop offset="0.165" stop-color="#0000ff"/><stop offset="0.24" stop-color="#0080ff"/>
<stop offset="0.32" stop-color="#00ffff"/><stop offset="0.40" stop-color="#00ff80"/><stop offset="0.48" stop-color="#00ff00"/>
<stop offset="0.575" stop-color="#80ff00"/><stop offset="0.67" stop-color="#ffff00"/><stop offset="0.755" stop-color="#ff8000"/>
<stop offset="0.84" stop-color="#ff0000"/><stop offset="0.92" stop-color="#ff8080"/><stop offset="1" stop-color="#fff"/></linearGradient>

<radialGradient id="gG" cx="0.5" cy="0.5" r="0.5" fx="0.38" fy="0.36"><stop offset="0" stop-color="#c8ffc8"/><stop offset="0.2" stop-color="#6cf06c"/><stop offset="0.5" stop-color="#22c422"/><stop offset="0.78" stop-color="#0e8e0e"/><stop offset="0.93" stop-color="#044804"/><stop offset="1" stop-color="#001c00"/></radialGradient>
<radialGradient id="gY" cx="0.5" cy="0.5" r="0.5" fx="0.38" fy="0.36"><stop offset="0" stop-color="#ffffe8"/><stop offset="0.14" stop-color="#ffff80"/><stop offset="0.5" stop-color="#fcfc28"/><stop offset="0.78" stop-color="#dcdc10"/><stop offset="0.93" stop-color="#8c8c00"/><stop offset="1" stop-color="#383800"/></radialGradient>
<radialGradient id="gB" cx="0.5" cy="0.5" r="0.5" fx="0.38" fy="0.36"><stop offset="0" stop-color="#b0b0ff"/><stop offset="0.14" stop-color="#5050f0"/><stop offset="0.45" stop-color="#1c1cc0"/><stop offset="0.75" stop-color="#0c0c88"/><stop offset="0.93" stop-color="#040448"/><stop offset="1" stop-color="#000020"/></radialGradient>
<radialGradient id="gR" cx="0.5" cy="0.5" r="0.5" fx="0.38" fy="0.36"><stop offset="0" stop-color="#ffb0a8"/><stop offset="0.14" stop-color="#f04848"/><stop offset="0.45" stop-color="#cc1818"/><stop offset="0.75" stop-color="#900808"/><stop offset="0.93" stop-color="#480202"/><stop offset="1" stop-color="#200000"/></radialGradient>
<radialGradient id="gO" cx="0.5" cy="0.5" r="0.5" fx="0.38" fy="0.36"><stop offset="0" stop-color="#ffffff"/><stop offset="0.55" stop-color="#f0dcd6"/><stop offset="1" stop-color="#b09088"/></radialGradient>

</defs>
<rect x="0" y="0" width="520" height="471" fill="#fff"/>
<g id="topplot">
<polyline points="39.4,114.9 43.1,107.5 47.1,99.4 49.1,102.8 53.1,96.4 57.2,93.3 61.2,88.3 64.2,90.9 67.3,92.3 71.3,99.4 75.3,105.4 78.3,104.4 82.4,96.4 85.0,86.3 86.4,71.2 87.8,86.3 90.4,110.5 93.5,116.5 97.5,122.6 100.5,121.6 103.5,118.5 107.6,118.5 110.6,112.5 113.2,107.0 115.2,108.5 117.3,118.5 119.7,122.2 124.7,119.2 129.8,121.6 133.0,120.6 138.1,122.0 142.1,117.5 144.6,120.6 147.2,111.5 150.2,107.5 153.2,98.4 155.6,96.8 158.3,84.3 161.3,68.1 164.3,61.7 166.3,64.1 168.3,74.2 170.4,90.3 172.4,110.5 174.4,124.6 175.8,130.6 177.8,126.6 180.4,127.0 183.5,124.6 187.5,122.6 189.5,118.1 191.5,124.6 194.6,128.6 198.6,126.0 201.6,126.6 204.6,129.6 207.5,131.5 209.7,129.6 211.8,123.0 214.5,115.5 217.2,108.0 219.2,110.5 222.4,97.2 224.4,100.0 227.2,91.7 230.9,83.1 234.4,85.9 237.8,75.9 241.5,58.7 243.6,38.7 245.3,25.8 247.3,41.5 249.3,67.3 251.6,87.4 253.9,101.7 256.7,108.9 260.2,108.9 265.3,105.1 268.8,110.3 273.1,117.5 276.8,113.2 279.5,115.8 281.9,124.5 284.8,120.0 288.7,117.1 291.5,120.0 293.5,122.9 296.3,117.1 299.2,118.1 303.1,121.9 306.9,122.3 309.8,120.4 312.7,121.5 315.6,121.9 318.5,124.8 322.3,125.8 326.2,125.8 329.0,122.9 331.5,125.4 334.2,122.9 336.7,127.7 339.6,132.5 343.5,137.3 345.4,137.7 373.8,137.7" fill="none" stroke="#000" stroke-width="1.55" stroke-linejoin="round"/>
<polyline points="39.4,115.0 43.1,108.5 45.1,107.5 50.1,108.5 55.2,103.4 59.2,100.0 63.2,99.4 67.3,102.0 71.3,107.5 75.3,113.5 78.3,119.6 82.4,124.6 86.4,127.6 90.4,127.6 93.5,126.6 97.5,129.6 103.5,124.6 107.6,120.6 111.6,114.5 113.6,113.5 115.6,118.5 118.7,125.6 123.7,123.6 128.8,126.2 133.0,127.6 137.1,126.6 141.1,125.6 144.6,123.6 147.2,111.5 150.2,107.5 153.2,98.4 155.6,96.8 158.3,84.3 161.3,68.1 164.3,61.7 166.3,64.1 168.3,74.2 170.4,90.3 172.4,110.5 174.4,124.6 175.8,130.6 177.8,126.6 180.4,127.0 183.5,124.6 187.5,122.6 189.5,118.1 191.5,124.6 194.6,128.6 198.6,126.0 201.6,126.6 204.6,129.6 207.5,131.5 209.7,131.7 213.7,130.6 217.7,127.6 221.6,129.2 225.8,126.0 230.1,123.2 234.4,127.5 240.1,128.9 245.8,126.0 251.6,128.9 257.3,127.5 263.0,128.9 268.8,131.8 273.1,134.6 277.4,135.8 285.0,137.7 373.8,137.7" fill="none" stroke="#e84848" stroke-width="1.35" stroke-dasharray="1.8 3.2"/>
<polyline points="39.4,137.7 44.1,135.7 48.1,130.6 52.1,126.6 55.2,126.2 60.2,128.6 65.2,130.2 70.3,131.7 75.3,129.6 78.3,120.6 81.4,108.5 84.4,92.3 86.4,84.3 88.4,96.4 90.4,112.5 92.5,121.6 95.5,128.6 99.5,131.7 105.6,132.7 110.6,133.0 115.6,132.7 121.7,133.0 127.7,131.7 130.0,130.6 135.1,129.6 140.1,130.6 145.2,133.7 150.2,136.7 153.2,137.7 205.6,137.7 208.6,133.8 211.7,127.6 214.7,121.6 217.7,116.3 220.5,114.5 223.6,107.6 227.2,103.1 230.9,96.0 234.4,93.1 237.8,83.1 241.5,61.6 243.6,41.5 245.3,31.5 247.3,44.4 249.3,71.6 251.6,94.5 254.4,108.9 257.3,116.0 261.6,117.5 265.9,113.2 270.2,114.6 273.1,118.3 276.8,113.2 279.5,115.8 281.9,124.5 284.8,120.0 288.7,117.1 291.5,120.0 293.5,122.9 296.3,117.1 299.2,118.1 303.1,121.9 306.9,122.3 309.8,120.4 312.7,121.5 315.6,121.9 318.5,124.8 322.3,125.8 326.2,125.8 329.0,122.9 331.5,125.4 334.2,122.9 336.7,127.7 339.6,132.5 343.5,137.3 345.4,137.7 373.8,137.7" fill="none" stroke="#4444d8" stroke-width="1.35" stroke-dasharray="1.8 3.2"/>
<rect x="39.5" y="4.7" width="334.5" height="133.10000000000002" fill="none" stroke="#000" stroke-width="1.2"/>
<path d="M59.3 137.8 v-4 M59.3 4.7 v4 M83.8 137.8 v-3 M83.8 4.7 v3 M108.3 137.8 v-4 M108.3 4.7 v4 M132.8 137.8 v-3 M132.8 4.7 v3 M157.4 137.8 v-4 M157.4 4.7 v4 M181.9 137.8 v-3 M181.9 4.7 v3 M206.4 137.8 v-4 M206.4 4.7 v4 M230.9 137.8 v-3 M230.9 4.7 v3 M255.4 137.8 v-4 M255.4 4.7 v4 M280.0 137.8 v-3 M280.0 4.7 v3 M304.5 137.8 v-4 M304.5 4.7 v4 M329.0 137.8 v-3 M329.0 4.7 v3 M353.5 137.8 v-4 M353.5 4.7 v4 M39.5 137.8 h5 M374.0 137.8 h-5 M39.5 121.2 h3 M374.0 121.2 h-3 M39.5 104.5 h5 M374.0 104.5 h-5 M39.5 87.9 h3 M374.0 87.9 h-3 M39.5 71.2 h5 M374.0 71.2 h-5 M39.5 54.6 h3 M374.0 54.6 h-3 M39.5 38.0 h5 M374.0 38.0 h-5 M39.5 21.3 h3 M374.0 21.3 h-3 M39.5 4.7 h5 M374.0 4.7 h-5" stroke="#000" stroke-width="1.1" fill="none"/>
<text x="31.8" y="144.0" font-size="14" text-anchor="end">0</text>
<text x="31.8" y="110.7" font-size="14" text-anchor="end">1</text>
<text x="31.8" y="77.4" font-size="14" text-anchor="end">2</text>
<text x="31.8" y="44.2" font-size="14" text-anchor="end">3</text>
<text x="31.8" y="9.2" font-size="14" text-anchor="end">4</text>
<text transform="translate(13.5,71) rotate(-90)" font-size="16.3" text-anchor="middle" textLength="125.5" lengthAdjust="spacingAndGlyphs">DOS (states/eV)</text>
<text x="52.4" y="30.9" font-size="15.4" textLength="16.2" lengthAdjust="spacingAndGlyphs">a)</text>
<line x1="255.5" y1="24.8" x2="285" y2="24.8" stroke="#000" stroke-width="1.6"/>
<line x1="255.5" y1="44" x2="285" y2="44" stroke="#e84848" stroke-width="1.35" stroke-dasharray="1.8 3.2"/>
<line x1="255.5" y1="63.3" x2="285" y2="63.3" stroke="#4444d8" stroke-width="1.35" stroke-dasharray="1.8 3.2"/>
<text x="292.8" y="29.5" font-size="16.2" textLength="65.7" lengthAdjust="spacingAndGlyphs">Total Mn</text>
<text x="292.3" y="48.9" font-size="16.2" textLength="59.3" lengthAdjust="spacingAndGlyphs">Mn spin</text><text transform="translate(359.9,53.2) scale(1.1,1.46)" font-size="18" text-anchor="middle" fill="#333">↑</text>
<text x="292.3" y="68" font-size="16.2" textLength="59.3" lengthAdjust="spacingAndGlyphs">Mn spin</text><text transform="translate(359.9,72) scale(1.1,1.46)" font-size="18" text-anchor="middle" fill="#333">↓</text>
</g>
<g id="heatmap">
<rect x="39.0" y="161.00" width="335.5" height="23.09" fill="url(#hg0)" shape-rendering="crispEdges"/>
<rect x="39.0" y="183.29" width="335.5" height="23.09" fill="url(#hg1)" shape-rendering="crispEdges"/>
<rect x="39.0" y="205.58" width="335.5" height="23.09" fill="url(#hg2)" shape-rendering="crispEdges"/>
<rect x="39.0" y="227.88" width="335.5" height="23.09" fill="url(#hg3)" shape-rendering="crispEdges"/>
<rect x="39.0" y="250.17" width="335.5" height="23.09" fill="url(#hg4)" shape-rendering="crispEdges"/>
<rect x="39.0" y="272.46" width="335.5" height="23.09" fill="url(#hg5)" shape-rendering="crispEdges"/>
<rect x="39.0" y="294.75" width="335.5" height="23.09" fill="url(#hg6)" shape-rendering="crispEdges"/>
<rect x="39.0" y="317.04" width="335.5" height="23.09" fill="url(#hg7)" shape-rendering="crispEdges"/>
<rect x="39.0" y="339.33" width="335.5" height="23.09" fill="url(#hg8)" shape-rendering="crispEdges"/>
<rect x="39.0" y="361.62" width="335.5" height="23.09" fill="url(#hg9)" shape-rendering="crispEdges"/>
<rect x="39.0" y="383.92" width="335.5" height="23.09" fill="url(#hg10)" shape-rendering="crispEdges"/>
<rect x="39.0" y="406.21" width="335.5" height="23.09" fill="url(#hg11)" shape-rendering="crispEdges"/>
<line x1="39.0" y1="295" x2="374.5" y2="295" stroke="#ffe932" stroke-width="1.3"/>
<line x1="206.4" y1="161.0" x2="206.4" y2="428.5" stroke="#ffe4ff" stroke-width="1.05" stroke-dasharray="5 2.6" opacity="0.85"/>
<path d="M39.1 161.0 V428.7 H374.5" stroke="#000" stroke-width="1.1" fill="none"/>
<path d="M39.0 161.3 H374.5" stroke="#001" stroke-width="0.8" fill="none" opacity="0.6"/>
<path d="M59.3 428.5 v-4 M59.3 161.0 v4 M83.8 428.5 v-2 M83.8 161.0 v2 M108.3 428.5 v-4 M108.3 161.0 v4 M132.8 428.5 v-2 M132.8 161.0 v2 M157.4 428.5 v-4 M157.4 161.0 v4 M181.9 428.5 v-2 M181.9 161.0 v2 M206.4 428.5 v-4 M206.4 161.0 v4 M230.9 428.5 v-2 M230.9 161.0 v2 M255.4 428.5 v-4 M255.4 161.0 v4 M280.0 428.5 v-2 M280.0 161.0 v2 M304.5 428.5 v-4 M304.5 161.0 v4 M329.0 428.5 v-2 M329.0 161.0 v2 M353.5 428.5 v-4 M353.5 161.0 v4 M39.0 428.5 h3 M39.0 383.9 h3 M39.0 339.3 h3 M39.0 294.8 h3 M39.0 250.2 h3 M39.0 205.6 h3 M39.0 161.0 h3" stroke="#000" stroke-width="1" fill="none"/>
<text x="31.8" y="433.7" font-size="14" text-anchor="end">-6</text>
<text x="31.8" y="389.1" font-size="14" text-anchor="end">-4</text>
<text x="31.8" y="344.5" font-size="14" text-anchor="end">-2</text>
<text x="31.8" y="299.9" font-size="14" text-anchor="end">0</text>
<text x="31.8" y="255.4" font-size="14" text-anchor="end">2</text>
<text x="31.8" y="210.8" font-size="14" text-anchor="end">4</text>
<text x="31.8" y="166.2" font-size="14" text-anchor="end">6</text>
<text x="59.0" y="447.8" font-size="14" text-anchor="middle">-6</text>
<text x="108.0" y="447.8" font-size="14" text-anchor="middle">-4</text>
<text x="157.1" y="447.8" font-size="14" text-anchor="middle">-2</text>
<text x="206.4" y="447.8" font-size="14" text-anchor="middle">0</text>
<text x="255.4" y="447.8" font-size="14" text-anchor="middle">2</text>
<text x="304.5" y="447.8" font-size="14" text-anchor="middle">4</text>
<text x="353.5" y="447.8" font-size="14" text-anchor="middle">6</text>
<text transform="translate(12.8,295.2) rotate(-90)" font-size="16.3" text-anchor="middle" textLength="60.5" lengthAdjust="spacingAndGlyphs">Position</text>
<text x="173" y="465" font-size="16.3">E-E<tspan font-size="11" dy="3.2">F</tspan><tspan dy="-3.2"> (eV)</tspan></text>
<text x="51.3" y="187.8" font-size="15.8" fill="#0a2a20" textLength="16.6" lengthAdjust="spacingAndGlyphs">b)</text>
<text x="315.6" y="234.4" font-size="16.5" fill="#ffe640" textLength="43" lengthAdjust="spacingAndGlyphs">LSMO</text>
<text x="321.6" y="367.8" font-size="16.5" fill="#ffe640" textLength="32.5" lengthAdjust="spacingAndGlyphs">SRO</text>
</g>
<g id="colorbar">
<rect x="418.6" y="38" width="11.6" height="100.4" fill="url(#cbar)" stroke="#222" stroke-width="1"/>
<path d="M430.2 38 h3.5 M430.2 88.2 h3.5 M430.2 138.4 h3.5" stroke="#222" stroke-width="1"/>
<text x="438" y="44.2" font-size="16.4" textLength="21" lengthAdjust="spacingAndGlyphs">3.0</text>
<text x="438" y="94.4" font-size="16.4" textLength="21" lengthAdjust="spacingAndGlyphs">1.5</text>
<text x="438" y="144.6" font-size="16.4" textLength="21" lengthAdjust="spacingAndGlyphs">0.0</text>
<text x="396.8" y="16.4" font-size="16.3" textLength="123.5" lengthAdjust="spacingAndGlyphs">DOS (states/eV)</text>
</g>
<g id="crystal">
<circle cx="407.5" cy="172.1" r="5.45" fill="url(#gB)" stroke="#00002a" stroke-width="0.9"/>
<circle cx="429.9" cy="172.1" r="5.45" fill="url(#gB)" stroke="#00002a" stroke-width="0.9"/>
<circle cx="452.3" cy="172.1" r="5.45" fill="url(#gB)" stroke="#00002a" stroke-width="0.9"/>
<circle cx="474.7" cy="172.1" r="5.45" fill="url(#gB)" stroke="#00002a" stroke-width="0.9"/>
<circle cx="407.5" cy="194.4" r="5.45" fill="url(#gB)" stroke="#00002a" stroke-width="0.9"/>
<circle cx="429.9" cy="194.4" r="5.45" fill="url(#gB)" stroke="#00002a" stroke-width="0.9"/>
<circle cx="452.3" cy="194.4" r="5.45" fill="url(#gB)" stroke="#00002a" stroke-width="0.9"/>
<circle cx="474.7" cy="194.4" r="5.45" fill="url(#gB)" stroke="#00002a" stroke-width="0.9"/>
<circle cx="407.5" cy="216.8" r="5.45" fill="url(#gB)" stroke="#00002a" stroke-width="0.9"/>
<circle cx="429.9" cy="216.8" r="5.45" fill="url(#gB)" stroke="#00002a" stroke-width="0.9"/>
<circle cx="452.3" cy="216.8" r="5.45" fill="url(#gB)" stroke="#00002a" stroke-width="0.9"/>
<circle cx="474.7" cy="216.8" r="5.45" fill="url(#gB)" stroke="#00002a" stroke-width="0.9"/>
<circle cx="407.5" cy="239.1" r="5.45" fill="url(#gB)" stroke="#00002a" stroke-width="0.9"/>
<circle cx="429.9" cy="239.1" r="5.45" fill="url(#gB)" stroke="#00002a" stroke-width="0.9"/>
<circle cx="452.3" cy="239.1" r="5.45" fill="url(#gB)" stroke="#00002a" stroke-width="0.9"/>
<circle cx="474.7" cy="239.1" r="5.45" fill="url(#gB)" stroke="#00002a" stroke-width="0.9"/>
<circle cx="407.5" cy="261.4" r="5.45" fill="url(#gB)" stroke="#00002a" stroke-width="0.9"/>
<circle cx="429.9" cy="261.4" r="5.45" fill="url(#gB)" stroke="#00002a" stroke-width="0.9"/>
<circle cx="452.3" cy="261.4" r="5.45" fill="url(#gB)" stroke="#00002a" stroke-width="0.9"/>
<circle cx="474.7" cy="261.4" r="5.45" fill="url(#gB)" stroke="#00002a" stroke-width="0.9"/>
<circle cx="407.5" cy="283.7" r="5.45" fill="url(#gB)" stroke="#00002a" stroke-width="0.9"/>
<circle cx="429.9" cy="283.7" r="5.45" fill="url(#gB)" stroke="#00002a" stroke-width="0.9"/>
<circle cx="452.3" cy="283.7" r="5.45" fill="url(#gB)" stroke="#00002a" stroke-width="0.9"/>
<circle cx="474.7" cy="283.7" r="5.45" fill="url(#gB)" stroke="#00002a" stroke-width="0.9"/>
<circle cx="407.5" cy="306.0" r="5.45" fill="url(#gR)" stroke="#2a0000" stroke-width="0.9"/>
<circle cx="429.9" cy="306.0" r="5.45" fill="url(#gR)" stroke="#2a0000" stroke-width="0.9"/>
<circle cx="452.3" cy="306.0" r="5.45" fill="url(#gR)" stroke="#2a0000" stroke-width="0.9"/>
<circle cx="474.7" cy="306.0" r="5.45" fill="url(#gR)" stroke="#2a0000" stroke-width="0.9"/>
<circle cx="407.5" cy="328.4" r="5.45" fill="url(#gR)" stroke="#2a0000" stroke-width="0.9"/>
<circle cx="429.9" cy="328.4" r="5.45" fill="url(#gR)" stroke="#2a0000" stroke-width="0.9"/>
<circle cx="452.3" cy="328.4" r="5.45" fill="url(#gR)" stroke="#2a0000" stroke-width="0.9"/>
<circle cx="474.7" cy="328.4" r="5.45" fill="url(#gR)" stroke="#2a0000" stroke-width="0.9"/>
<circle cx="407.5" cy="350.7" r="5.45" fill="url(#gR)" stroke="#2a0000" stroke-width="0.9"/>
<circle cx="429.9" cy="350.7" r="5.45" fill="url(#gR)" stroke="#2a0000" stroke-width="0.9"/>
<circle cx="452.3" cy="350.7" r="5.45" fill="url(#gR)" stroke="#2a0000" stroke-width="0.9"/>
<circle cx="474.7" cy="350.7" r="5.45" fill="url(#gR)" stroke="#2a0000" stroke-width="0.9"/>
<circle cx="407.5" cy="373.0" r="5.45" fill="url(#gR)" stroke="#2a0000" stroke-width="0.9"/>
<circle cx="429.9" cy="373.0" r="5.45" fill="url(#gR)" stroke="#2a0000" stroke-width="0.9"/>
<circle cx="452.3" cy="373.0" r="5.45" fill="url(#gR)" stroke="#2a0000" stroke-width="0.9"/>
<circle cx="474.7" cy="373.0" r="5.45" fill="url(#gR)" stroke="#2a0000" stroke-width="0.9"/>
<circle cx="407.5" cy="395.3" r="5.45" fill="url(#gR)" stroke="#2a0000" stroke-width="0.9"/>
<circle cx="429.9" cy="395.3" r="5.45" fill="url(#gR)" stroke="#2a0000" stroke-width="0.9"/>
<circle cx="452.3" cy="395.3" r="5.45" fill="url(#gR)" stroke="#2a0000" stroke-width="0.9"/>
<circle cx="474.7" cy="395.3" r="5.45" fill="url(#gR)" stroke="#2a0000" stroke-width="0.9"/>
<circle cx="407.5" cy="417.6" r="5.45" fill="url(#gR)" stroke="#2a0000" stroke-width="0.9"/>
<circle cx="429.9" cy="417.6" r="5.45" fill="url(#gR)" stroke="#2a0000" stroke-width="0.9"/>
<circle cx="452.3" cy="417.6" r="5.45" fill="url(#gR)" stroke="#2a0000" stroke-width="0.9"/>
<circle cx="474.7" cy="417.6" r="5.45" fill="url(#gR)" stroke="#2a0000" stroke-width="0.9"/>
<circle cx="396.3" cy="160.9" r="8.85" fill="url(#gG)" stroke="#022a02" stroke-width="0.9"/>
<circle cx="418.7" cy="160.9" r="8.85" fill="url(#gG)" stroke="#022a02" stroke-width="0.9"/>
<circle cx="441.1" cy="160.9" r="8.85" fill="url(#gG)" stroke="#022a02" stroke-width="0.9"/>
<circle cx="463.5" cy="160.9" r="8.85" fill="url(#gG)" stroke="#022a02" stroke-width="0.9"/>
<circle cx="396.3" cy="183.3" r="8.85" fill="url(#gG)" stroke="#022a02" stroke-width="0.9"/>
<circle cx="418.7" cy="183.3" r="8.85" fill="url(#gG)" stroke="#022a02" stroke-width="0.9"/>
<circle cx="441.1" cy="183.3" r="8.85" fill="url(#gG)" stroke="#022a02" stroke-width="0.9"/>
<circle cx="463.5" cy="183.3" r="8.85" fill="url(#gG)" stroke="#022a02" stroke-width="0.9"/>
<circle cx="396.3" cy="205.6" r="8.85" fill="url(#gG)" stroke="#022a02" stroke-width="0.9"/>
<circle cx="418.7" cy="205.6" r="8.85" fill="url(#gG)" stroke="#022a02" stroke-width="0.9"/>
<circle cx="441.1" cy="205.6" r="8.85" fill="url(#gG)" stroke="#022a02" stroke-width="0.9"/>
<circle cx="463.5" cy="205.6" r="8.85" fill="url(#gG)" stroke="#022a02" stroke-width="0.9"/>
<circle cx="396.3" cy="227.9" r="8.85" fill="url(#gG)" stroke="#022a02" stroke-width="0.9"/>
<circle cx="418.7" cy="227.9" r="8.85" fill="url(#gG)" stroke="#022a02" stroke-width="0.9"/>
<circle cx="441.1" cy="227.9" r="8.85" fill="url(#gG)" stroke="#022a02" stroke-width="0.9"/>
<circle cx="463.5" cy="227.9" r="8.85" fill="url(#gG)" stroke="#022a02" stroke-width="0.9"/>
<circle cx="396.3" cy="250.2" r="8.85" fill="url(#gG)" stroke="#022a02" stroke-width="0.9"/>
<circle cx="418.7" cy="250.2" r="8.85" fill="url(#gG)" stroke="#022a02" stroke-width="0.9"/>
<circle cx="441.1" cy="250.2" r="8.85" fill="url(#gG)" stroke="#022a02" stroke-width="0.9"/>
<circle cx="463.5" cy="250.2" r="8.85" fill="url(#gG)" stroke="#022a02" stroke-width="0.9"/>
<circle cx="396.3" cy="272.5" r="8.85" fill="url(#gG)" stroke="#022a02" stroke-width="0.9"/>
<circle cx="418.7" cy="272.5" r="8.85" fill="url(#gG)" stroke="#022a02" stroke-width="0.9"/>
<circle cx="441.1" cy="272.5" r="8.85" fill="url(#gG)" stroke="#022a02" stroke-width="0.9"/>
<circle cx="463.5" cy="272.5" r="8.85" fill="url(#gG)" stroke="#022a02" stroke-width="0.9"/>
<circle cx="396.3" cy="294.9" r="8.85" fill="url(#gY)" stroke="#3c3c00" stroke-width="0.9"/>
<circle cx="418.7" cy="294.9" r="8.85" fill="url(#gY)" stroke="#3c3c00" stroke-width="0.9"/>
<circle cx="441.1" cy="294.9" r="8.85" fill="url(#gY)" stroke="#3c3c00" stroke-width="0.9"/>
<circle cx="463.5" cy="294.9" r="8.85" fill="url(#gY)" stroke="#3c3c00" stroke-width="0.9"/>
<circle cx="396.3" cy="317.2" r="8.85" fill="url(#gY)" stroke="#3c3c00" stroke-width="0.9"/>
<circle cx="418.7" cy="317.2" r="8.85" fill="url(#gY)" stroke="#3c3c00" stroke-width="0.9"/>
<circle cx="441.1" cy="317.2" r="8.85" fill="url(#gY)" stroke="#3c3c00" stroke-width="0.9"/>
<circle cx="463.5" cy="317.2" r="8.85" fill="url(#gY)" stroke="#3c3c00" stroke-width="0.9"/>
<circle cx="396.3" cy="339.5" r="8.85" fill="url(#gY)" stroke="#3c3c00" stroke-width="0.9"/>
<circle cx="418.7" cy="339.5" r="8.85" fill="url(#gY)" stroke="#3c3c00" stroke-width="0.9"/>
<circle cx="441.1" cy="339.5" r="8.85" fill="url(#gY)" stroke="#3c3c00" stroke-width="0.9"/>
<circle cx="463.5" cy="339.5" r="8.85" fill="url(#gY)" stroke="#3c3c00" stroke-width="0.9"/>
<circle cx="396.3" cy="361.8" r="8.85" fill="url(#gY)" stroke="#3c3c00" stroke-width="0.9"/>
<circle cx="418.7" cy="361.8" r="8.85" fill="url(#gY)" stroke="#3c3c00" stroke-width="0.9"/>
<circle cx="441.1" cy="361.8" r="8.85" fill="url(#gY)" stroke="#3c3c00" stroke-width="0.9"/>
<circle cx="463.5" cy="361.8" r="8.85" fill="url(#gY)" stroke="#3c3c00" stroke-width="0.9"/>
<circle cx="396.3" cy="384.1" r="8.85" fill="url(#gY)" stroke="#3c3c00" stroke-width="0.9"/>
<circle cx="418.7" cy="384.1" r="8.85" fill="url(#gY)" stroke="#3c3c00" stroke-width="0.9"/>
<circle cx="441.1" cy="384.1" r="8.85" fill="url(#gY)" stroke="#3c3c00" stroke-width="0.9"/>
<circle cx="463.5" cy="384.1" r="8.85" fill="url(#gY)" stroke="#3c3c00" stroke-width="0.9"/>
<circle cx="396.3" cy="406.5" r="8.85" fill="url(#gY)" stroke="#3c3c00" stroke-width="0.9"/>
<circle cx="418.7" cy="406.5" r="8.85" fill="url(#gY)" stroke="#3c3c00" stroke-width="0.9"/>
<circle cx="441.1" cy="406.5" r="8.85" fill="url(#gY)" stroke="#3c3c00" stroke-width="0.9"/>
<circle cx="463.5" cy="406.5" r="8.85" fill="url(#gY)" stroke="#3c3c00" stroke-width="0.9"/>
<circle cx="396.3" cy="428.8" r="8.85" fill="url(#gY)" stroke="#3c3c00" stroke-width="0.9"/>
<circle cx="418.7" cy="428.8" r="8.85" fill="url(#gY)" stroke="#3c3c00" stroke-width="0.9"/>
<circle cx="441.1" cy="428.8" r="8.85" fill="url(#gY)" stroke="#3c3c00" stroke-width="0.9"/>
<circle cx="463.5" cy="428.8" r="8.85" fill="url(#gY)" stroke="#3c3c00" stroke-width="0.9"/>
<circle cx="407.5" cy="160.9" r="1.6" fill="url(#gO)" stroke="#3a2a24" stroke-width="0.9"/>
<circle cx="429.9" cy="160.9" r="1.6" fill="url(#gO)" stroke="#3a2a24" stroke-width="0.9"/>
<circle cx="452.3" cy="160.9" r="1.6" fill="url(#gO)" stroke="#3a2a24" stroke-width="0.9"/>
<circle cx="474.7" cy="160.9" r="1.6" fill="url(#gO)" stroke="#3a2a24" stroke-width="0.9"/>
<circle cx="407.5" cy="183.3" r="1.6" fill="url(#gO)" stroke="#3a2a24" stroke-width="0.9"/>
<circle cx="429.9" cy="183.3" r="1.6" fill="url(#gO)" stroke="#3a2a24" stroke-width="0.9"/>
<circle cx="452.3" cy="183.3" r="1.6" fill="url(#gO)" stroke="#3a2a24" stroke-width="0.9"/>
<circle cx="474.7" cy="183.3" r="1.6" fill="url(#gO)" stroke="#3a2a24" stroke-width="0.9"/>
<circle cx="407.5" cy="205.6" r="1.6" fill="url(#gO)" stroke="#3a2a24" stroke-width="0.9"/>
<circle cx="429.9" cy="205.6" r="1.6" fill="url(#gO)" stroke="#3a2a24" stroke-width="0.9"/>
<circle cx="452.3" cy="205.6" r="1.6" fill="url(#gO)" stroke="#3a2a24" stroke-width="0.9"/>
<circle cx="474.7" cy="205.6" r="1.6" fill="url(#gO)" stroke="#3a2a24" stroke-width="0.9"/>
<circle cx="407.5" cy="227.9" r="1.6" fill="url(#gO)" stroke="#3a2a24" stroke-width="0.9"/>
<circle cx="429.9" cy="227.9" r="1.6" fill="url(#gO)" stroke="#3a2a24" stroke-width="0.9"/>
<circle cx="452.3" cy="227.9" r="1.6" fill="url(#gO)" stroke="#3a2a24" stroke-width="0.9"/>
<circle cx="474.7" cy="227.9" r="1.6" fill="url(#gO)" stroke="#3a2a24" stroke-width="0.9"/>
<circle cx="407.5" cy="250.2" r="1.6" fill="url(#gO)" stroke="#3a2a24" stroke-width="0.9"/>
<circle cx="429.9" cy="250.2" r="1.6" fill="url(#gO)" stroke="#3a2a24" stroke-width="0.9"/>
<circle cx="452.3" cy="250.2" r="1.6" fill="url(#gO)" stroke="#3a2a24" stroke-width="0.9"/>
<circle cx="474.7" cy="250.2" r="1.6" fill="url(#gO)" stroke="#3a2a24" stroke-width="0.9"/>
<circle cx="407.5" cy="272.5" r="1.6" fill="url(#gO)" stroke="#3a2a24" stroke-width="0.9"/>
<circle cx="429.9" cy="272.5" r="1.6" fill="url(#gO)" stroke="#3a2a24" stroke-width="0.9"/>
<circle cx="452.3" cy="272.5" r="1.6" fill="url(#gO)" stroke="#3a2a24" stroke-width="0.9"/>
<circle cx="474.7" cy="272.5" r="1.6" fill="url(#gO)" stroke="#3a2a24" stroke-width="0.9"/>
<circle cx="407.5" cy="294.9" r="1.6" fill="url(#gO)" stroke="#3a2a24" stroke-width="0.9"/>
<circle cx="429.9" cy="294.9" r="1.6" fill="url(#gO)" stroke="#3a2a24" stroke-width="0.9"/>
<circle cx="452.3" cy="294.9" r="1.6" fill="url(#gO)" stroke="#3a2a24" stroke-width="0.9"/>
<circle cx="474.7" cy="294.9" r="1.6" fill="url(#gO)" stroke="#3a2a24" stroke-width="0.9"/>
<circle cx="407.5" cy="317.2" r="1.6" fill="url(#gO)" stroke="#3a2a24" stroke-width="0.9"/>
<circle cx="429.9" cy="317.2" r="1.6" fill="url(#gO)" stroke="#3a2a24" stroke-width="0.9"/>
<circle cx="452.3" cy="317.2" r="1.6" fill="url(#gO)" stroke="#3a2a24" stroke-width="0.9"/>
<circle cx="474.7" cy="317.2" r="1.6" fill="url(#gO)" stroke="#3a2a24" stroke-width="0.9"/>
<circle cx="407.5" cy="339.5" r="1.6" fill="url(#gO)" stroke="#3a2a24" stroke-width="0.9"/>
<circle cx="429.9" cy="339.5" r="1.6" fill="url(#gO)" stroke="#3a2a24" stroke-width="0.9"/>
<circle cx="452.3" cy="339.5" r="1.6" fill="url(#gO)" stroke="#3a2a24" stroke-width="0.9"/>
<circle cx="474.7" cy="339.5" r="1.6" fill="url(#gO)" stroke="#3a2a24" stroke-width="0.9"/>
<circle cx="407.5" cy="361.8" r="1.6" fill="url(#gO)" stroke="#3a2a24" stroke-width="0.9"/>
<circle cx="429.9" cy="361.8" r="1.6" fill="url(#gO)" stroke="#3a2a24" stroke-width="0.9"/>
<circle cx="452.3" cy="361.8" r="1.6" fill="url(#gO)" stroke="#3a2a24" stroke-width="0.9"/>
<circle cx="474.7" cy="361.8" r="1.6" fill="url(#gO)" stroke="#3a2a24" stroke-width="0.9"/>
<circle cx="407.5" cy="384.1" r="1.6" fill="url(#gO)" stroke="#3a2a24" stroke-width="0.9"/>
<circle cx="429.9" cy="384.1" r="1.6" fill="url(#gO)" stroke="#3a2a24" stroke-width="0.9"/>
<circle cx="452.3" cy="384.1" r="1.6" fill="url(#gO)" stroke="#3a2a24" stroke-width="0.9"/>
<circle cx="474.7" cy="384.1" r="1.6" fill="url(#gO)" stroke="#3a2a24" stroke-width="0.9"/>
<circle cx="407.5" cy="406.5" r="1.6" fill="url(#gO)" stroke="#3a2a24" stroke-width="0.9"/>
<circle cx="429.9" cy="406.5" r="1.6" fill="url(#gO)" stroke="#3a2a24" stroke-width="0.9"/>
<circle cx="452.3" cy="406.5" r="1.6" fill="url(#gO)" stroke="#3a2a24" stroke-width="0.9"/>
<circle cx="474.7" cy="406.5" r="1.6" fill="url(#gO)" stroke="#3a2a24" stroke-width="0.9"/>
<circle cx="407.5" cy="428.8" r="1.6" fill="url(#gO)" stroke="#3a2a24" stroke-width="0.9"/>
<circle cx="429.9" cy="428.8" r="1.6" fill="url(#gO)" stroke="#3a2a24" stroke-width="0.9"/>
<circle cx="452.3" cy="428.8" r="1.6" fill="url(#gO)" stroke="#3a2a24" stroke-width="0.9"/>
<circle cx="474.7" cy="428.8" r="1.6" fill="url(#gO)" stroke="#3a2a24" stroke-width="0.9"/>
<circle cx="396.3" cy="172.1" r="1.6" fill="url(#gO)" stroke="#3a2a24" stroke-width="0.9"/>
<circle cx="418.7" cy="172.1" r="1.6" fill="url(#gO)" stroke="#3a2a24" stroke-width="0.9"/>
<circle cx="441.1" cy="172.1" r="1.6" fill="url(#gO)" stroke="#3a2a24" stroke-width="0.9"/>
<circle cx="463.5" cy="172.1" r="1.6" fill="url(#gO)" stroke="#3a2a24" stroke-width="0.9"/>
<circle cx="396.3" cy="194.4" r="1.6" fill="url(#gO)" stroke="#3a2a24" stroke-width="0.9"/>
<circle cx="418.7" cy="194.4" r="1.6" fill="url(#gO)" stroke="#3a2a24" stroke-width="0.9"/>
<circle cx="441.1" cy="194.4" r="1.6" fill="url(#gO)" stroke="#3a2a24" stroke-width="0.9"/>
<circle cx="463.5" cy="194.4" r="1.6" fill="url(#gO)" stroke="#3a2a24" stroke-width="0.9"/>
<circle cx="396.3" cy="216.8" r="1.6" fill="url(#gO)" stroke="#3a2a24" stroke-width="0.9"/>
<circle cx="418.7" cy="216.8" r="1.6" fill="url(#gO)" stroke="#3a2a24" stroke-width="0.9"/>
<circle cx="441.1" cy="216.8" r="1.6" fill="url(#gO)" stroke="#3a2a24" stroke-width="0.9"/>
<circle cx="463.5" cy="216.8" r="1.6" fill="url(#gO)" stroke="#3a2a24" stroke-width="0.9"/>
<circle cx="396.3" cy="239.1" r="1.6" fill="url(#gO)" stroke="#3a2a24" stroke-width="0.9"/>
<circle cx="418.7" cy="239.1" r="1.6" fill="url(#gO)" stroke="#3a2a24" stroke-width="0.9"/>
<circle cx="441.1" cy="239.1" r="1.6" fill="url(#gO)" stroke="#3a2a24" stroke-width="0.9"/>
<circle cx="463.5" cy="239.1" r="1.6" fill="url(#gO)" stroke="#3a2a24" stroke-width="0.9"/>
<circle cx="396.3" cy="261.4" r="1.6" fill="url(#gO)" stroke="#3a2a24" stroke-width="0.9"/>
<circle cx="418.7" cy="261.4" r="1.6" fill="url(#gO)" stroke="#3a2a24" stroke-width="0.9"/>
<circle cx="441.1" cy="261.4" r="1.6" fill="url(#gO)" stroke="#3a2a24" stroke-width="0.9"/>
<circle cx="463.5" cy="261.4" r="1.6" fill="url(#gO)" stroke="#3a2a24" stroke-width="0.9"/>
<circle cx="396.3" cy="283.7" r="1.6" fill="url(#gO)" stroke="#3a2a24" stroke-width="0.9"/>
<circle cx="418.7" cy="283.7" r="1.6" fill="url(#gO)" stroke="#3a2a24" stroke-width="0.9"/>
<circle cx="441.1" cy="283.7" r="1.6" fill="url(#gO)" stroke="#3a2a24" stroke-width="0.9"/>
<circle cx="463.5" cy="283.7" r="1.6" fill="url(#gO)" stroke="#3a2a24" stroke-width="0.9"/>
<circle cx="396.3" cy="306.0" r="1.6" fill="url(#gO)" stroke="#3a2a24" stroke-width="0.9"/>
<circle cx="418.7" cy="306.0" r="1.6" fill="url(#gO)" stroke="#3a2a24" stroke-width="0.9"/>
<circle cx="441.1" cy="306.0" r="1.6" fill="url(#gO)" stroke="#3a2a24" stroke-width="0.9"/>
<circle cx="463.5" cy="306.0" r="1.6" fill="url(#gO)" stroke="#3a2a24" stroke-width="0.9"/>
<circle cx="396.3" cy="328.4" r="1.6" fill="url(#gO)" stroke="#3a2a24" stroke-width="0.9"/>
<circle cx="418.7" cy="328.4" r="1.6" fill="url(#gO)" stroke="#3a2a24" stroke-width="0.9"/>
<circle cx="441.1" cy="328.4" r="1.6" fill="url(#gO)" stroke="#3a2a24" stroke-width="0.9"/>
<circle cx="463.5" cy="328.4" r="1.6" fill="url(#gO)" stroke="#3a2a24" stroke-width="0.9"/>
<circle cx="396.3" cy="350.7" r="1.6" fill="url(#gO)" stroke="#3a2a24" stroke-width="0.9"/>
<circle cx="418.7" cy="350.7" r="1.6" fill="url(#gO)" stroke="#3a2a24" stroke-width="0.9"/>
<circle cx="441.1" cy="350.7" r="1.6" fill="url(#gO)" stroke="#3a2a24" stroke-width="0.9"/>
<circle cx="463.5" cy="350.7" r="1.6" fill="url(#gO)" stroke="#3a2a24" stroke-width="0.9"/>
<circle cx="396.3" cy="373.0" r="1.6" fill="url(#gO)" stroke="#3a2a24" stroke-width="0.9"/>
<circle cx="418.7" cy="373.0" r="1.6" fill="url(#gO)" stroke="#3a2a24" stroke-width="0.9"/>
<circle cx="441.1" cy="373.0" r="1.6" fill="url(#gO)" stroke="#3a2a24" stroke-width="0.9"/>
<circle cx="463.5" cy="373.0" r="1.6" fill="url(#gO)" stroke="#3a2a24" stroke-width="0.9"/>
<circle cx="396.3" cy="395.3" r="1.6" fill="url(#gO)" stroke="#3a2a24" stroke-width="0.9"/>
<circle cx="418.7" cy="395.3" r="1.6" fill="url(#gO)" stroke="#3a2a24" stroke-width="0.9"/>
<circle cx="441.1" cy="395.3" r="1.6" fill="url(#gO)" stroke="#3a2a24" stroke-width="0.9"/>
<circle cx="463.5" cy="395.3" r="1.6" fill="url(#gO)" stroke="#3a2a24" stroke-width="0.9"/>
<circle cx="396.3" cy="417.6" r="1.6" fill="url(#gO)" stroke="#3a2a24" stroke-width="0.9"/>
<circle cx="418.7" cy="417.6" r="1.6" fill="url(#gO)" stroke="#3a2a24" stroke-width="0.9"/>
<circle cx="441.1" cy="417.6" r="1.6" fill="url(#gO)" stroke="#3a2a24" stroke-width="0.9"/>
<circle cx="463.5" cy="417.6" r="1.6" fill="url(#gO)" stroke="#3a2a24" stroke-width="0.9"/>
<text x="480.6" y="166.2" font-size="16.2" fill="#3cb43c" textLength="36.2" lengthAdjust="spacingAndGlyphs">La/Sr</text>
<text x="485.5" y="289.2" font-size="16" fill="#2020c8" textLength="23.5" lengthAdjust="spacingAndGlyphs">Mn</text>
<text x="486" y="311.5" font-size="16" fill="#d02020" textLength="18.5" lengthAdjust="spacingAndGlyphs">Ru</text>
<text x="481" y="434.3" font-size="15.5" fill="#111" textLength="13" lengthAdjust="spacingAndGlyphs">Sr</text>
</g>
</svg>
</body>
</html>
